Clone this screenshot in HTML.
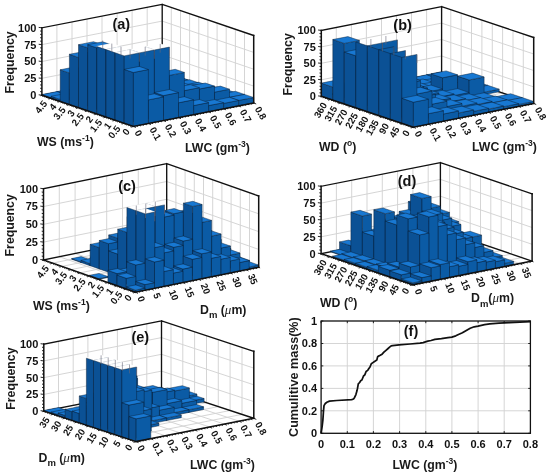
<!DOCTYPE html>
<html><head><meta charset="utf-8"><title>Figure</title>
<style>html,body{margin:0;padding:0;background:#fff}svg{display:block;font-family:"Liberation Sans",sans-serif}.l{fill:#0b5195}.r{fill:#0b5ba5}.t{fill:#1878d2}</style>
</head><body>
<svg width="550" height="476" viewBox="0 0 550 476">
<rect width="550" height="476" fill="#fff"/>
<path d="M56.9 92.3L56.9 24.9M148.4 123.5L56.9 92.3M72 89.3L72 21.9M163.5 120.5L72 89.3M87 86.4L87 19M178.5 117.6L87 86.4M102 83.5L102 16M193.6 114.7L102 83.5M117.1 80.5L117.1 13.1M208.6 111.7L117.1 80.5M132.1 77.6L132.1 10.2M223.6 108.8L132.1 77.6M147.2 74.6L147.2 7.2M238.7 105.8L147.2 74.6M244.5 99.8L244.5 32.4M124.2 123.3L244.5 99.8M235.4 96.7L235.4 29.3M115.1 120.2L235.4 96.7M226.2 93.5L226.2 26.1M106 117L226.2 93.5M217.1 90.4L217.1 23M96.8 113.9L217.1 90.4M207.9 87.3L207.9 19.9M87.7 110.8L207.9 87.3M198.8 84.2L198.8 16.8M78.5 107.7L198.8 84.2M189.6 81.1L189.6 13.7M69.4 104.6L189.6 81.1M180.5 77.9L180.5 10.5M60.2 101.4L180.5 77.9M171.3 74.8L171.3 7.4M51 98.3L171.3 74.8M41.9 78.3L162.2 54.9M162.2 54.9L253.7 86.1M41.9 61.5L162.2 38M162.2 38L253.7 69.2M41.9 44.6L162.2 21.1M162.2 21.1L253.7 52.4" stroke="#d3d3d3" stroke-width="0.95" fill="none"/>
<path d="M41.9 27.8L162.2 4.3M162.2 4.3L253.7 35.5M162.2 71.7L162.2 4.3M41.9 95.2L162.2 71.7M162.2 71.7L253.7 102.9" stroke="#111" stroke-width="1.35" fill="none" stroke-linecap="square"/>
<g stroke="#0a1e33" stroke-width="0.45" stroke-linejoin="round">
<path class="l" d="M147.2,74.6 156.3,77.8 156.3,77.1 147.2,74z"/>
<path class="r" d="M156.3,77.8 171.3,74.8 171.3,74.1 156.3,77.1z"/>
<path class="t" d="M147.2,74 156.3,77.1 171.3,74.1 162.2,71z"/>
<path class="l" d="M132.1,77.6 141.3,80.7 141.3,80 132.1,76.9z"/>
<path class="r" d="M141.3,80.7 156.3,77.8 156.3,77.1 141.3,80z"/>
<path class="t" d="M132.1,76.9 141.3,80 156.3,77.1 147.2,74z"/>
<path class="l" d="M117.1,80.5 126.2,83.6 126.2,83 117.1,79.8z"/>
<path class="r" d="M126.2,83.6 141.3,80.7 141.3,80 126.2,83z"/>
<path class="t" d="M117.1,79.8 126.2,83 141.3,80 132.1,76.9z"/>
<path class="l" d="M102,83.5 111.2,86.6 111.2,85.9 102,82.8z"/>
<path class="r" d="M111.2,86.6 126.2,83.6 126.2,83 111.2,85.9z"/>
<path class="t" d="M102,82.8 111.2,85.9 126.2,83 117.1,79.8z"/>
<path class="l" d="M87,86.4 96.2,89.5 96.2,88.8 87,85.7z"/>
<path class="r" d="M96.2,89.5 111.2,86.6 111.2,85.9 96.2,88.8z"/>
<path class="t" d="M87,85.7 96.2,88.8 111.2,85.9 102,82.8z"/>
<path class="l" d="M72,89.3 81.1,92.4 81.1,91.8 72,88.7z"/>
<path class="r" d="M81.1,92.4 96.2,89.5 96.2,88.8 81.1,91.8z"/>
<path class="t" d="M72,88.7 81.1,91.8 96.2,88.8 87,85.7z"/>
<path class="l" d="M56.9,92.3 66.1,95.4 66.1,94.7 56.9,91.6z"/>
<path class="r" d="M66.1,95.4 81.1,92.4 81.1,91.8 66.1,94.7z"/>
<path class="t" d="M56.9,91.6 66.1,94.7 81.1,91.8 72,88.7z"/>
<path class="l" d="M41.9,95.2 51,98.3 51,97.6 41.9,94.5z"/>
<path class="r" d="M51,98.3 66.1,95.4 66.1,94.7 51,97.6z"/>
<path class="t" d="M41.9,94.5 51,97.6 66.1,94.7 56.9,91.6z"/>
<path class="l" d="M156.3,77.8 165.5,80.9 165.5,80.2 156.3,77.1z"/>
<path class="r" d="M165.5,80.9 180.5,77.9 180.5,77.3 165.5,80.2z"/>
<path class="t" d="M156.3,77.1 165.5,80.2 180.5,77.3 171.3,74.1z"/>
<path class="l" d="M141.3,80.7 150.4,83.8 150.4,83.1 141.3,80z"/>
<path class="r" d="M150.4,83.8 165.5,80.9 165.5,80.2 150.4,83.1z"/>
<path class="t" d="M141.3,80 150.4,83.1 165.5,80.2 156.3,77.1z"/>
<path class="l" d="M126.2,83.6 135.4,86.8 135.4,86.1 126.2,83z"/>
<path class="r" d="M135.4,86.8 150.4,83.8 150.4,83.1 135.4,86.1z"/>
<path class="t" d="M126.2,83 135.4,86.1 150.4,83.1 141.3,80z"/>
<path class="l" d="M111.2,86.6 120.3,89.7 120.3,89 111.2,85.9z"/>
<path class="r" d="M120.3,89.7 135.4,86.8 135.4,86.1 120.3,89z"/>
<path class="t" d="M111.2,85.9 120.3,89 135.4,86.1 126.2,83z"/>
<path class="l" d="M96.2,89.5 105.3,92.6 105.3,92 96.2,88.8z"/>
<path class="r" d="M105.3,92.6 120.3,89.7 120.3,89 105.3,92z"/>
<path class="t" d="M96.2,88.8 105.3,92 120.3,89 111.2,85.9z"/>
<path class="l" d="M81.1,92.4 90.3,95.6 90.3,94.9 81.1,91.8z"/>
<path class="r" d="M90.3,95.6 105.3,92.6 105.3,92 90.3,94.9z"/>
<path class="t" d="M81.1,91.8 90.3,94.9 105.3,92 96.2,88.8z"/>
<path class="l" d="M66.1,95.4 75.2,98.5 75.2,97.2 66.1,94z"/>
<path class="r" d="M75.2,98.5 90.3,95.6 90.3,94.2 75.2,97.2z"/>
<path class="t" d="M66.1,94 75.2,97.2 90.3,94.2 81.1,91.1z"/>
<path class="l" d="M51,98.3 60.2,101.4 60.2,99.4 51,96.3z"/>
<path class="r" d="M60.2,101.4 75.2,98.5 75.2,96.5 60.2,99.4z"/>
<path class="t" d="M51,96.3 60.2,99.4 75.2,96.5 66.1,93.4z"/>
<path class="l" d="M165.5,80.9 174.6,84 174.6,83.3 165.5,80.2z"/>
<path class="r" d="M174.6,84 189.6,81.1 189.6,80.4 174.6,83.3z"/>
<path class="t" d="M165.5,80.2 174.6,83.3 189.6,80.4 180.5,77.3z"/>
<path class="l" d="M150.4,83.8 159.6,86.9 159.6,86.3 150.4,83.1z"/>
<path class="r" d="M159.6,86.9 174.6,84 174.6,83.3 159.6,86.3z"/>
<path class="t" d="M150.4,83.1 159.6,86.3 174.6,83.3 165.5,80.2z"/>
<path class="l" d="M135.4,86.8 144.5,89.9 144.5,88.5 135.4,85.4z"/>
<path class="r" d="M144.5,89.9 159.6,86.9 159.6,85.6 144.5,88.5z"/>
<path class="t" d="M135.4,85.4 144.5,88.5 159.6,85.6 150.4,82.5z"/>
<path class="l" d="M120.3,89.7 129.5,92.8 129.5,90.1 120.3,87z"/>
<path class="r" d="M129.5,92.8 144.5,89.9 144.5,87.2 129.5,90.1z"/>
<path class="t" d="M120.3,87 129.5,90.1 144.5,87.2 135.4,84.1z"/>
<path class="l" d="M105.3,92.6 114.5,95.7 114.5,91.7 105.3,88.6z"/>
<path class="r" d="M114.5,95.7 129.5,92.8 129.5,88.8 114.5,91.7z"/>
<path class="t" d="M105.3,88.6 114.5,91.7 129.5,88.8 120.3,85.6z"/>
<path class="l" d="M90.3,95.6 99.4,98.7 99.4,90.6 90.3,87.5z"/>
<path class="r" d="M99.4,98.7 114.5,95.7 114.5,87.7 99.4,90.6z"/>
<path class="t" d="M90.3,87.5 99.4,90.6 114.5,87.7 105.3,84.5z"/>
<path class="l" d="M75.2,98.5 84.4,101.6 84.4,88.1 75.2,85z"/>
<path class="r" d="M84.4,101.6 99.4,98.7 99.4,85.2 84.4,88.1z"/>
<path class="t" d="M75.2,85 84.4,88.1 99.4,85.2 90.3,82.1z"/>
<path class="l" d="M60.2,101.4 69.4,104.6 69.4,72.9 60.2,69.8z"/>
<path class="r" d="M69.4,104.6 84.4,101.6 84.4,69.9 69.4,72.9z"/>
<path class="t" d="M60.2,69.8 69.4,72.9 84.4,69.9 75.2,66.8z"/>
<path class="l" d="M174.6,84 183.8,87.1 183.8,85.8 174.6,82.6z"/>
<path class="r" d="M183.8,87.1 198.8,84.2 198.8,82.8 183.8,85.8z"/>
<path class="t" d="M174.6,82.6 183.8,85.8 198.8,82.8 189.6,79.7z"/>
<path class="l" d="M159.6,86.9 168.7,90.1 168.7,88 159.6,84.9z"/>
<path class="r" d="M168.7,90.1 183.8,87.1 183.8,85.1 168.7,88z"/>
<path class="t" d="M159.6,84.9 168.7,88 183.8,85.1 174.6,82z"/>
<path class="l" d="M144.5,89.9 153.7,93 153.7,89.6 144.5,86.5z"/>
<path class="r" d="M153.7,93 168.7,90.1 168.7,86.7 153.7,89.6z"/>
<path class="t" d="M144.5,86.5 153.7,89.6 168.7,86.7 159.6,83.6z"/>
<path class="l" d="M129.5,92.8 138.6,95.9 138.6,90.5 129.5,87.4z"/>
<path class="r" d="M138.6,95.9 153.7,93 153.7,87.6 138.6,90.5z"/>
<path class="t" d="M129.5,87.4 138.6,90.5 153.7,87.6 144.5,84.5z"/>
<path class="l" d="M114.5,95.7 123.6,98.9 123.6,89.4 114.5,86.3z"/>
<path class="r" d="M123.6,98.9 138.6,95.9 138.6,86.5 123.6,89.4z"/>
<path class="t" d="M114.5,86.3 123.6,89.4 138.6,86.5 129.5,83.4z"/>
<path class="l" d="M99.4,98.7 108.6,101.8 108.6,85 99.4,81.8z"/>
<path class="r" d="M108.6,101.8 123.6,98.9 123.6,82 108.6,85z"/>
<path class="t" d="M99.4,81.8 108.6,85 123.6,82 114.5,78.9z"/>
<path class="l" d="M84.4,101.6 93.5,104.7 93.5,77.8 84.4,74.7z"/>
<path class="r" d="M93.5,104.7 108.6,101.8 108.6,74.8 93.5,77.8z"/>
<path class="t" d="M84.4,74.7 93.5,77.8 108.6,74.8 99.4,71.7z"/>
<path class="l" d="M69.4,104.6 78.5,107.7 78.5,57.5 69.4,54.3z"/>
<path class="r" d="M78.5,107.7 93.5,104.7 93.5,54.5 78.5,57.5z"/>
<path class="t" d="M69.4,54.3 78.5,57.5 93.5,54.5 84.4,51.4z"/>
<path class="l" d="M183.8,87.1 192.9,90.2 192.9,88.2 183.8,85.1z"/>
<path class="r" d="M192.9,90.2 207.9,87.3 207.9,85.3 192.9,88.2z"/>
<path class="t" d="M183.8,85.1 192.9,88.2 207.9,85.3 198.8,82.2z"/>
<path class="l" d="M168.7,90.1 177.9,93.2 177.9,89.8 168.7,86.7z"/>
<path class="r" d="M177.9,93.2 192.9,90.2 192.9,86.9 177.9,89.8z"/>
<path class="t" d="M168.7,86.7 177.9,89.8 192.9,86.9 183.8,83.7z"/>
<path class="l" d="M153.7,93 162.8,96.1 162.8,89.4 153.7,86.3z"/>
<path class="r" d="M162.8,96.1 177.9,93.2 177.9,86.4 162.8,89.4z"/>
<path class="t" d="M153.7,86.3 162.8,89.4 177.9,86.4 168.7,83.3z"/>
<path class="l" d="M138.6,95.9 147.8,99.1 147.8,88.9 138.6,85.8z"/>
<path class="r" d="M147.8,99.1 162.8,96.1 162.8,86 147.8,88.9z"/>
<path class="t" d="M138.6,85.8 147.8,88.9 162.8,86 153.7,82.9z"/>
<path class="l" d="M123.6,98.9 132.8,102 132.8,87.2 123.6,84z"/>
<path class="r" d="M132.8,102 147.8,99.1 147.8,84.2 132.8,87.2z"/>
<path class="t" d="M123.6,84 132.8,87.2 147.8,84.2 138.6,81.1z"/>
<path class="l" d="M108.6,101.8 117.7,104.9 117.7,78 108.6,74.8z"/>
<path class="r" d="M117.7,104.9 132.8,102 132.8,75 117.7,78z"/>
<path class="t" d="M108.6,74.8 117.7,78 132.8,75 123.6,71.9z"/>
<path class="l" d="M93.5,104.7 102.7,107.9 102.7,67.4 93.5,64.3z"/>
<path class="r" d="M102.7,107.9 117.7,104.9 117.7,64.5 102.7,67.4z"/>
<path class="t" d="M93.5,64.3 102.7,67.4 117.7,64.5 108.6,61.4z"/>
<path class="l" d="M78.5,107.7 87.7,110.8 87.7,47.8 78.5,44.7z"/>
<path class="r" d="M87.7,110.8 102.7,107.9 102.7,44.8 87.7,47.8z"/>
<path class="t" d="M78.5,44.7 87.7,47.8 102.7,44.8 93.5,41.7z"/>
<path class="l" d="M192.9,90.2 202.1,93.4 202.1,90.7 192.9,87.5z"/>
<path class="r" d="M202.1,93.4 217.1,90.4 217.1,87.7 202.1,90.7z"/>
<path class="t" d="M192.9,87.5 202.1,90.7 217.1,87.7 207.9,84.6z"/>
<path class="l" d="M177.9,93.2 187,96.3 187,90.9 177.9,87.8z"/>
<path class="r" d="M187,96.3 202.1,93.4 202.1,88 187,90.9z"/>
<path class="t" d="M177.9,87.8 187,90.9 202.1,88 192.9,84.8z"/>
<path class="l" d="M162.8,96.1 172,99.2 172,89.8 162.8,86.7z"/>
<path class="r" d="M172,99.2 187,96.3 187,86.9 172,89.8z"/>
<path class="t" d="M162.8,86.7 172,89.8 187,86.9 177.9,83.7z"/>
<path class="l" d="M147.8,99.1 156.9,102.2 156.9,88.7 147.8,85.6z"/>
<path class="r" d="M156.9,102.2 172,99.2 172,85.8 156.9,88.7z"/>
<path class="t" d="M147.8,85.6 156.9,88.7 172,85.8 162.8,82.6z"/>
<path class="l" d="M132.8,102 141.9,105.1 141.9,84.9 132.8,81.8z"/>
<path class="r" d="M141.9,105.1 156.9,102.2 156.9,82 141.9,84.9z"/>
<path class="t" d="M132.8,81.8 141.9,84.9 156.9,82 147.8,78.8z"/>
<path class="l" d="M117.7,104.9 126.9,108 126.9,74.3 117.7,71.2z"/>
<path class="r" d="M126.9,108 141.9,105.1 141.9,71.4 126.9,74.3z"/>
<path class="t" d="M117.7,71.2 126.9,74.3 141.9,71.4 132.8,68.3z"/>
<path class="l" d="M102.7,107.9 111.8,111 111.8,63.8 102.7,60.7z"/>
<path class="r" d="M111.8,111 126.9,108 126.9,60.9 111.8,63.8z"/>
<path class="t" d="M102.7,60.7 111.8,63.8 126.9,60.9 117.7,57.7z"/>
<path class="l" d="M87.7,110.8 96.8,113.9 96.8,47.9 87.7,44.7z"/>
<path class="r" d="M96.8,113.9 111.8,111 111.8,44.9 96.8,47.9z"/>
<path class="t" d="M87.7,44.7 96.8,47.9 111.8,44.9 102.7,41.8z"/>
<path class="l" d="M202.1,93.4 211.2,96.5 211.2,93.1 202.1,90z"/>
<path class="r" d="M211.2,96.5 226.2,93.5 226.2,90.2 211.2,93.1z"/>
<path class="t" d="M202.1,90 211.2,93.1 226.2,90.2 217.1,87z"/>
<path class="l" d="M187,96.3 196.2,99.4 196.2,92.7 187,89.6z"/>
<path class="r" d="M196.2,99.4 211.2,96.5 211.2,89.7 196.2,92.7z"/>
<path class="t" d="M187,89.6 196.2,92.7 211.2,89.7 202.1,86.6z"/>
<path class="l" d="M172,99.2 181.1,102.4 181.1,90.2 172,87.1z"/>
<path class="r" d="M181.1,102.4 196.2,99.4 196.2,87.3 181.1,90.2z"/>
<path class="t" d="M172,87.1 181.1,90.2 196.2,87.3 187,84.2z"/>
<path class="l" d="M156.9,102.2 166.1,105.3 166.1,86.4 156.9,83.3z"/>
<path class="r" d="M166.1,105.3 181.1,102.4 181.1,83.5 166.1,86.4z"/>
<path class="t" d="M156.9,83.3 166.1,86.4 181.1,83.5 172,80.4z"/>
<path class="l" d="M141.9,105.1 151.1,108.2 151.1,84.6 141.9,81.5z"/>
<path class="r" d="M151.1,108.2 166.1,105.3 166.1,81.7 151.1,84.6z"/>
<path class="t" d="M141.9,81.5 151.1,84.6 166.1,81.7 156.9,78.6z"/>
<path class="l" d="M126.9,108 136,111.2 136,70.7 126.9,67.6z"/>
<path class="r" d="M136,111.2 151.1,108.2 151.1,67.8 136,70.7z"/>
<path class="t" d="M126.9,67.6 136,70.7 151.1,67.8 141.9,64.7z"/>
<path class="l" d="M111.8,111 121,114.1 121,60.2 111.8,57.1z"/>
<path class="r" d="M121,114.1 136,111.2 136,57.2 121,60.2z"/>
<path class="t" d="M111.8,57.1 121,60.2 136,57.2 126.9,54.1z"/>
<path fill="#fff" stroke="#fff" stroke-width="0.9" d="M96.8,46.5 106,49.6 121,46.7 111.8,43.6z"/>
<path class="l" d="M96.8,113.9 106,117 106,49.6 96.8,46.5z"/>
<path class="r" d="M106,117 121,114.1 121,46.7 106,49.6z"/>
<path class="l" d="M211.2,96.5 220.4,99.6 220.4,95.6 211.2,92.4z"/>
<path class="r" d="M220.4,99.6 235.4,96.7 235.4,92.6 220.4,95.6z"/>
<path class="t" d="M211.2,92.4 220.4,95.6 235.4,92.6 226.2,89.5z"/>
<path class="l" d="M196.2,99.4 205.3,102.5 205.3,93.1 196.2,90z"/>
<path class="r" d="M205.3,102.5 220.4,99.6 220.4,90.2 205.3,93.1z"/>
<path class="t" d="M196.2,90 205.3,93.1 220.4,90.2 211.2,87z"/>
<path class="l" d="M181.1,102.4 190.3,105.5 190.3,90.6 181.1,87.5z"/>
<path class="r" d="M190.3,105.5 205.3,102.5 205.3,87.7 190.3,90.6z"/>
<path class="t" d="M181.1,87.5 190.3,90.6 205.3,87.7 196.2,84.6z"/>
<path class="l" d="M166.1,105.3 175.2,108.4 175.2,88.2 166.1,85.1z"/>
<path class="r" d="M175.2,108.4 190.3,105.5 190.3,85.3 175.2,88.2z"/>
<path class="t" d="M166.1,85.1 175.2,88.2 190.3,85.3 181.1,82.1z"/>
<path class="l" d="M151.1,108.2 160.2,111.3 160.2,81 151.1,77.9z"/>
<path class="r" d="M160.2,111.3 175.2,108.4 175.2,78.1 160.2,81z"/>
<path class="t" d="M151.1,77.9 160.2,81 175.2,78.1 166.1,75z"/>
<path class="l" d="M136,111.2 145.2,114.3 145.2,60.4 136,57.2z"/>
<path class="r" d="M145.2,114.3 160.2,111.3 160.2,57.4 145.2,60.4z"/>
<path class="t" d="M136,57.2 145.2,60.4 160.2,57.4 151.1,54.3z"/>
<path class="l" d="M121,114.1 130.1,117.2 130.1,59.9 121,56.8z"/>
<path class="r" d="M130.1,117.2 145.2,114.3 145.2,57 130.1,59.9z"/>
<path class="t" d="M121,56.8 130.1,59.9 145.2,57 136,53.9z"/>
<path fill="#fff" stroke="#fff" stroke-width="0.9" d="M106,49.6 115.1,52.8 130.1,49.8 121,46.7z"/>
<path class="l" d="M106,117 115.1,120.2 115.1,52.8 106,49.6z"/>
<path class="r" d="M115.1,120.2 130.1,117.2 130.1,49.8 115.1,52.8z"/>
<path class="l" d="M220.4,99.6 229.5,102.7 229.5,97.3 220.4,94.2z"/>
<path class="r" d="M229.5,102.7 244.5,99.8 244.5,94.4 229.5,97.3z"/>
<path class="t" d="M220.4,94.2 229.5,97.3 244.5,94.4 235.4,91.3z"/>
<path class="l" d="M205.3,102.5 214.5,105.7 214.5,92.2 205.3,89.1z"/>
<path class="r" d="M214.5,105.7 229.5,102.7 229.5,89.2 214.5,92.2z"/>
<path class="t" d="M205.3,89.1 214.5,92.2 229.5,89.2 220.4,86.1z"/>
<path class="l" d="M190.3,105.5 199.4,108.6 199.4,89 190.3,85.9z"/>
<path class="r" d="M199.4,108.6 214.5,105.7 214.5,86.1 199.4,89z"/>
<path class="t" d="M190.3,85.9 199.4,89 214.5,86.1 205.3,83z"/>
<path class="l" d="M175.2,108.4 184.4,111.5 184.4,90.6 175.2,87.5z"/>
<path class="r" d="M184.4,111.5 199.4,108.6 199.4,87.7 184.4,90.6z"/>
<path class="t" d="M175.2,87.5 184.4,90.6 199.4,87.7 190.3,84.6z"/>
<path class="l" d="M160.2,111.3 169.4,114.5 169.4,75.4 160.2,72.3z"/>
<path class="r" d="M169.4,114.5 184.4,111.5 184.4,72.4 169.4,75.4z"/>
<path class="t" d="M160.2,72.3 169.4,75.4 184.4,72.4 175.2,69.3z"/>
<path fill="#fff" stroke="#fff" stroke-width="0.9" d="M145.2,46.9 154.3,50 169.4,47.1 160.2,43.9z"/>
<path class="l" d="M145.2,114.3 154.3,117.4 154.3,50 145.2,46.9z"/>
<path class="r" d="M154.3,117.4 169.4,114.5 169.4,47.1 154.3,50z"/>
<path fill="#fff" stroke="#fff" stroke-width="0.9" d="M130.1,49.8 139.3,52.9 154.3,50 145.2,46.9z"/>
<path class="l" d="M130.1,117.2 139.3,120.3 139.3,52.9 130.1,49.8z"/>
<path class="r" d="M139.3,120.3 154.3,117.4 154.3,50 139.3,52.9z"/>
<path fill="#fff" stroke="#fff" stroke-width="0.9" d="M115.1,52.8 124.2,55.9 139.3,52.9 130.1,49.8z"/>
<path class="l" d="M115.1,120.2 124.2,123.3 124.2,55.9 115.1,52.8z"/>
<path class="r" d="M124.2,123.3 139.3,120.3 139.3,52.9 124.2,55.9z"/>
<path class="l" d="M229.5,102.7 238.7,105.8 238.7,100.4 229.5,97.3z"/>
<path class="r" d="M238.7,105.8 253.7,102.9 253.7,97.5 238.7,100.4z"/>
<path class="t" d="M229.5,97.3 238.7,100.4 253.7,97.5 244.5,94.4z"/>
<path class="l" d="M214.5,105.7 223.6,108.8 223.6,103.4 214.5,100.3z"/>
<path class="r" d="M223.6,108.8 238.7,105.8 238.7,100.4 223.6,103.4z"/>
<path class="t" d="M214.5,100.3 223.6,103.4 238.7,100.4 229.5,97.3z"/>
<path class="l" d="M199.4,108.6 208.6,111.7 208.6,105.6 199.4,102.5z"/>
<path class="r" d="M208.6,111.7 223.6,108.8 223.6,102.7 208.6,105.6z"/>
<path class="t" d="M199.4,102.5 208.6,105.6 223.6,102.7 214.5,99.6z"/>
<path class="l" d="M184.4,111.5 193.6,114.7 193.6,105.6 184.4,102.4z"/>
<path class="r" d="M193.6,114.7 208.6,111.7 208.6,102.6 193.6,105.6z"/>
<path class="t" d="M184.4,102.4 193.6,105.6 208.6,102.6 199.4,99.5z"/>
<path class="l" d="M169.4,114.5 178.5,117.6 178.5,102.8 169.4,99.6z"/>
<path class="r" d="M178.5,117.6 193.6,114.7 193.6,99.8 178.5,102.8z"/>
<path class="t" d="M169.4,99.6 178.5,102.8 193.6,99.8 184.4,96.7z"/>
<path class="l" d="M154.3,117.4 163.5,120.5 163.5,95.6 154.3,92.5z"/>
<path class="r" d="M163.5,120.5 178.5,117.6 178.5,92.6 163.5,95.6z"/>
<path class="t" d="M154.3,92.5 163.5,95.6 178.5,92.6 169.4,89.5z"/>
<path class="l" d="M139.3,120.3 148.4,123.5 148.4,99.9 139.3,96.8z"/>
<path class="r" d="M148.4,123.5 163.5,120.5 163.5,96.9 148.4,99.9z"/>
<path class="t" d="M139.3,96.8 148.4,99.9 163.5,96.9 154.3,93.8z"/>
<path class="l" d="M124.2,123.3 133.4,126.4 133.4,72.5 124.2,69.4z"/>
<path class="r" d="M133.4,126.4 148.4,123.5 148.4,69.5 133.4,72.5z"/>
<path class="t" d="M124.2,69.4 133.4,72.5 148.4,69.5 139.3,66.4z"/>
</g>
<path d="M102.7 48.6L102.7 40.5M111.8 52.3L111.8 43.6M121 55.5L121 46.7M130.1 58.6L130.1 49.8M139.3 61.7L139.3 52.9M145.2 55.6L145.2 46.9M154.3 58.8L154.3 50M160.2 52.7L160.2 43.9M169.4 55.8L169.4 47.1" stroke="#667" stroke-width="0.6" fill="none"/>
<path d="M41.9 95.2L41.9 27.8M41.9 95.2L133.4 126.4M133.4 126.4L253.7 102.9M253.7 102.9L253.7 35.5" stroke="#111" stroke-width="1.5" fill="none" stroke-linecap="square"/>
<path d="M41.9 95.2L38.7 94.8M41.9 91.8L40.1 91.6M41.9 88.5L40.1 88.2M41.9 85.1L40.1 84.9M41.9 81.7L40.1 81.5M41.9 78.3L38.7 78M41.9 75L40.1 74.8M41.9 71.6L40.1 71.4M41.9 68.2L40.1 68M41.9 64.9L40.1 64.7M41.9 61.5L38.7 61.1M41.9 58.1L40.1 57.9M41.9 54.8L40.1 54.5M41.9 51.4L40.1 51.2M41.9 48L40.1 47.8M41.9 44.6L38.7 44.3M41.9 41.3L40.1 41.1M41.9 37.9L40.1 37.7M41.9 34.5L40.1 34.3M41.9 31.2L40.1 31M41.9 27.8L38.7 27.4M133.4 126.4L130.8 127.2M131.6 125.8L130.1 126.4M129.7 125.2L128.3 125.7M127.9 124.5L126.4 125.1M126.1 123.9L124.6 124.5M124.2 123.3L121.7 124.1M122.4 122.7L120.9 123.2M120.6 122L119.1 122.6M118.8 121.4L117.3 122M116.9 120.8L115.5 121.4M115.1 120.2L112.5 121M113.3 119.5L111.8 120.1M111.4 118.9L110 119.5M109.6 118.3L108.1 118.9M107.8 117.7L106.3 118.3M106 117L103.4 117.8M104.1 116.4L102.6 117M102.3 115.8L100.8 116.4M100.5 115.2L99 115.8M98.6 114.5L97.2 115.1M96.8 113.9L94.2 114.7M95 113.3L93.5 113.9M93.1 112.7L91.7 113.3M91.3 112L89.8 112.6M89.5 111.4L88 112M87.7 110.8L85.1 111.6M85.8 110.2L84.3 110.8M84 109.6L82.5 110.1M82.2 108.9L80.7 109.5M80.3 108.3L78.9 108.9M78.5 107.7L75.9 108.5M76.7 107.1L75.2 107.6M74.8 106.4L73.4 107M73 105.8L71.5 106.4M71.2 105.2L69.7 105.8M69.4 104.6L66.8 105.4M67.5 103.9L66 104.5M65.7 103.3L64.2 103.9M63.9 102.7L62.4 103.3M62 102.1L60.6 102.7M60.2 101.4L57.6 102.2M58.4 100.8L56.9 101.4M56.5 100.2L55.1 100.8M54.7 99.6L53.2 100.2M52.9 98.9L51.4 99.5M51 98.3L48.5 99.1M49.2 97.7L47.7 98.3M47.4 97.1L45.9 97.7M45.6 96.4L44.1 97M43.7 95.8L42.3 96.4M41.9 95.2L40.4 95.8M133.4 126.4L135.9 127.5M136.4 125.8L137.8 126.6M139.4 125.2L140.8 126M142.4 124.6L143.8 125.4M145.4 124.1L146.8 124.8M148.4 123.5L150.9 124.6M151.4 122.9L152.9 123.7M154.5 122.3L155.9 123.1M157.5 121.7L158.9 122.5M160.5 121.1L161.9 121.9M163.5 120.5L165.9 121.7M166.5 119.9L167.9 120.7M169.5 119.4L170.9 120.1M172.5 118.8L173.9 119.5M175.5 118.2L176.9 119M178.5 117.6L181 118.7M181.5 117L182.9 117.8M184.5 116.4L185.9 117.2M187.5 115.8L189 116.6M190.5 115.2L192 116M193.6 114.7L196 115.8M196.6 114.1L198 114.8M199.6 113.5L201 114.3M202.6 112.9L204 113.7M205.6 112.3L207 113.1M208.6 111.7L211 112.9M211.6 111.1L213 111.9M214.6 110.5L216 111.3M217.6 110L219 110.7M220.6 109.4L222 110.1M223.6 108.8L226.1 109.9M226.6 108.2L228.1 109M229.6 107.6L231.1 108.4M232.6 107L234.1 107.8M235.7 106.4L237.1 107.2M238.7 105.8L241.1 107M241.7 105.2L243.1 106M244.7 104.7L246.1 105.4M247.7 104.1L249.1 104.9M250.7 103.5L252.1 104.3M253.7 102.9L256.2 104" stroke="#111" stroke-width="0.9" fill="none"/>
<g font-size="9.6" font-weight="bold" fill="#111">
<text x="36.4" y="99.1" text-anchor="end" font-size="11">0</text>
<text x="36.4" y="82.2" text-anchor="end" font-size="11">25</text>
<text x="36.4" y="65.4" text-anchor="end" font-size="11">50</text>
<text x="36.4" y="48.5" text-anchor="end" font-size="11">75</text>
<text x="36.4" y="31.7" text-anchor="end" font-size="11">100</text>
<text transform="translate(130.2 131.9) rotate(-52)" text-anchor="end">0</text>
<text transform="translate(121 128.8) rotate(-52)" text-anchor="end">0.5</text>
<text transform="translate(111.9 125.7) rotate(-52)" text-anchor="end">1</text>
<text transform="translate(102.8 122.5) rotate(-52)" text-anchor="end">1.5</text>
<text transform="translate(93.6 119.4) rotate(-52)" text-anchor="end">2</text>
<text transform="translate(84.5 116.3) rotate(-52)" text-anchor="end">2.5</text>
<text transform="translate(75.3 113.2) rotate(-52)" text-anchor="end">3</text>
<text transform="translate(66.2 110.1) rotate(-52)" text-anchor="end">3.5</text>
<text transform="translate(57 106.9) rotate(-52)" text-anchor="end">4</text>
<text transform="translate(47.8 103.8) rotate(-52)" text-anchor="end">4.5</text>
<text transform="translate(136.9 130.9) rotate(60)" text-anchor="start" dy="3">0</text>
<text transform="translate(151.9 128) rotate(60)" text-anchor="start" dy="3">0.1</text>
<text transform="translate(167 125) rotate(60)" text-anchor="start" dy="3">0.2</text>
<text transform="translate(182 122.1) rotate(60)" text-anchor="start" dy="3">0.3</text>
<text transform="translate(197.1 119.2) rotate(60)" text-anchor="start" dy="3">0.4</text>
<text transform="translate(212.1 116.2) rotate(60)" text-anchor="start" dy="3">0.5</text>
<text transform="translate(227.1 113.3) rotate(60)" text-anchor="start" dy="3">0.6</text>
<text transform="translate(242.2 110.3) rotate(60)" text-anchor="start" dy="3">0.7</text>
<text transform="translate(257.2 107.4) rotate(60)" text-anchor="start" dy="3">0.8</text>
</g>
<text x="121.3" y="28.7" font-size="14.5" font-weight="bold" text-anchor="middle" fill="#111">(a)</text>
<text transform="translate(14 62.5) rotate(-90)" font-size="12.3" font-weight="bold" text-anchor="middle" fill="#1a1a1a">Frequency</text>
<text x="37" y="146" font-size="12.3" font-weight="bold" fill="#1a1a1a">WS (ms<tspan font-size="8.5" dy="-5">-1</tspan><tspan dy="5">)</tspan></text>
<text x="185" y="152" font-size="12.3" font-weight="bold" fill="#1a1a1a">LWC (gm<tspan font-size="8.5" dy="-5">-3</tspan><tspan dy="5">)</tspan></text>
<path d="M336.3 93.3L336.3 27.4M428.4 124.2L336.3 93.3M351.4 90.3L351.4 24.4M443.5 121.2L351.4 90.3M366.4 87.4L366.4 21.5M458.5 118.3L366.4 87.4M381.5 84.4L381.5 18.5M473.6 115.3L381.5 84.4M396.5 81.4L396.5 15.5M488.6 112.3L396.5 81.4M411.5 78.5L411.5 12.5M503.6 109.4L411.5 78.5M426.6 75.5L426.6 9.6M518.7 106.4L426.6 75.5M523.3 99.9L523.3 34M403 123.7L523.3 99.9M513 96.4L513 30.5M392.7 120.2L513 96.4M502.6 93L502.6 27.1M382.3 116.8L502.6 93M492.3 89.5L492.3 23.6M372 113.3L492.3 89.5M481.9 86L481.9 20.1M361.6 109.8L481.9 86M471.5 82.5L471.5 16.6M351.2 106.3L471.5 82.5M461.2 79.1L461.2 13.2M340.9 102.9L461.2 79.1M450.8 75.6L450.8 9.7M330.5 99.4L450.8 75.6M321.3 79.8L441.6 56M441.6 56L533.7 86.9M321.3 63.3L441.6 39.5M441.6 39.5L533.7 70.5M321.3 46.9L441.6 23.1M441.6 23.1L533.7 54" stroke="#d3d3d3" stroke-width="0.95" fill="none"/>
<path d="M321.3 30.4L441.6 6.6M441.6 6.6L533.7 37.5M441.6 72.5L441.6 6.6M321.3 96.3L441.6 72.5M441.6 72.5L533.7 103.4" stroke="#111" stroke-width="1.35" fill="none" stroke-linecap="square"/>
<g stroke="#0a1e33" stroke-width="0.45" stroke-linejoin="round">
<path class="l" d="M426.6,75.5 438.1,79.3 438.1,78.7 426.6,74.8z"/>
<path class="r" d="M438.1,79.3 453.1,76.4 453.1,75.7 438.1,78.7z"/>
<path class="t" d="M426.6,74.8 438.1,78.7 453.1,75.7 441.6,71.8z"/>
<path class="l" d="M411.5,78.4 423,82.3 423,81.7 411.5,77.8z"/>
<path class="r" d="M423,82.3 438.1,79.3 438.1,78.7 423,81.7z"/>
<path class="t" d="M411.5,77.8 423,81.7 438.1,78.7 426.6,74.8z"/>
<path class="l" d="M396.5,81.4 408,85.3 408,84.6 396.5,80.8z"/>
<path class="r" d="M408,85.3 423,82.3 423,81.7 408,84.6z"/>
<path class="t" d="M396.5,80.8 408,84.6 423,81.7 411.5,77.8z"/>
<path class="l" d="M381.5,84.4 393,88.3 393,86.9 381.5,83.1z"/>
<path class="r" d="M393,88.3 408,85.3 408,84 393,86.9z"/>
<path class="t" d="M381.5,83.1 393,86.9 408,84 396.5,80.1z"/>
<path class="l" d="M366.4,87.4 377.9,91.2 377.9,89.3 366.4,85.4z"/>
<path class="r" d="M377.9,91.2 393,88.3 393,86.3 377.9,89.3z"/>
<path class="t" d="M366.4,85.4 377.9,89.3 393,86.3 381.5,82.4z"/>
<path class="l" d="M351.4,90.3 362.9,94.2 362.9,90.9 351.4,87.1z"/>
<path class="r" d="M362.9,94.2 377.9,91.2 377.9,87.9 362.9,90.9z"/>
<path class="t" d="M351.4,87.1 362.9,90.9 377.9,87.9 366.4,84.1z"/>
<path class="l" d="M336.3,93.3 347.9,97.2 347.9,90.6 336.3,86.7z"/>
<path class="r" d="M347.9,97.2 362.9,94.2 362.9,87.6 347.9,90.6z"/>
<path class="t" d="M336.3,86.7 347.9,90.6 362.9,87.6 351.4,83.8z"/>
<path class="l" d="M321.3,96.3 332.8,100.2 332.8,87 321.3,83.1z"/>
<path class="r" d="M332.8,100.2 347.9,97.2 347.9,84 332.8,87z"/>
<path class="t" d="M321.3,83.1 332.8,87 347.9,84 336.3,80.1z"/>
<path class="l" d="M438.1,79.3 449.6,83.2 449.6,81.9 438.1,78z"/>
<path class="r" d="M449.6,83.2 464.6,80.2 464.6,78.9 449.6,81.9z"/>
<path class="t" d="M438.1,78 449.6,81.9 464.6,78.9 453.1,75z"/>
<path class="l" d="M423,82.3 434.6,86.2 434.6,84.2 423,80.3z"/>
<path class="r" d="M434.6,86.2 449.6,83.2 449.6,81.2 434.6,84.2z"/>
<path class="t" d="M423,80.3 434.6,84.2 449.6,81.2 438.1,77.4z"/>
<path class="l" d="M408,85.3 419.5,89.2 419.5,85.9 408,82z"/>
<path class="r" d="M419.5,89.2 434.6,86.2 434.6,82.9 419.5,85.9z"/>
<path class="t" d="M408,82 419.5,85.9 434.6,82.9 423,79z"/>
<path class="l" d="M393,88.3 404.5,92.1 404.5,86.9 393,83z"/>
<path class="r" d="M404.5,92.1 419.5,89.2 419.5,83.9 404.5,86.9z"/>
<path class="t" d="M393,83 404.5,86.9 419.5,83.9 408,80z"/>
<path class="l" d="M377.9,91.2 389.4,95.1 389.4,87.2 377.9,83.3z"/>
<path class="r" d="M389.4,95.1 404.5,92.1 404.5,84.2 389.4,87.2z"/>
<path class="t" d="M377.9,83.3 389.4,87.2 404.5,84.2 393,80.4z"/>
<path class="l" d="M362.9,94.2 374.4,98.1 374.4,84.9 362.9,81z"/>
<path class="r" d="M374.4,98.1 389.4,95.1 389.4,81.9 374.4,84.9z"/>
<path class="t" d="M362.9,81 374.4,84.9 389.4,81.9 377.9,78.1z"/>
<path class="l" d="M347.9,97.2 359.4,101.1 359.4,68.1 347.9,64.2z"/>
<path class="r" d="M359.4,101.1 374.4,98.1 374.4,65.1 359.4,68.1z"/>
<path class="t" d="M347.9,64.2 359.4,68.1 374.4,65.1 362.9,61.3z"/>
<path class="l" d="M332.8,100.2 344.3,104 344.3,43.4 332.8,39.5z"/>
<path class="r" d="M344.3,104 359.4,101.1 359.4,40.4 344.3,43.4z"/>
<path class="t" d="M332.8,39.5 344.3,43.4 359.4,40.4 347.9,36.6z"/>
<path class="l" d="M449.6,83.2 461.1,87.1 461.1,85.1 449.6,81.2z"/>
<path class="r" d="M461.1,87.1 476.1,84.1 476.1,82.1 461.1,85.1z"/>
<path class="t" d="M449.6,81.2 461.1,85.1 476.1,82.1 464.6,78.2z"/>
<path class="l" d="M434.6,86.2 446.1,90 446.1,86.7 434.6,82.9z"/>
<path class="r" d="M446.1,90 461.1,87.1 461.1,83.8 446.1,86.7z"/>
<path class="t" d="M434.6,82.9 446.1,86.7 461.1,83.8 449.6,79.9z"/>
<path class="l" d="M419.5,89.2 431,93 431,88.4 419.5,84.5z"/>
<path class="r" d="M431,93 446.1,90 446.1,85.4 431,88.4z"/>
<path class="t" d="M419.5,84.5 431,88.4 446.1,85.4 434.6,81.6z"/>
<path class="l" d="M404.5,92.1 416,96 416,89.4 404.5,85.5z"/>
<path class="r" d="M416,96 431,93 431,86.4 416,89.4z"/>
<path class="t" d="M404.5,85.5 416,89.4 431,86.4 419.5,82.6z"/>
<path class="l" d="M389.4,95.1 400.9,99 400.9,89.1 389.4,85.2z"/>
<path class="r" d="M400.9,99 416,96 416,86.1 400.9,89.1z"/>
<path class="t" d="M389.4,85.2 400.9,89.1 416,86.1 404.5,82.2z"/>
<path class="l" d="M374.4,98.1 385.9,101.9 385.9,82.2 374.4,78.3z"/>
<path class="r" d="M385.9,101.9 400.9,99 400.9,79.2 385.9,82.2z"/>
<path class="t" d="M374.4,78.3 385.9,82.2 400.9,79.2 389.4,75.3z"/>
<path class="l" d="M359.4,101.1 370.9,104.9 370.9,65.4 359.4,61.5z"/>
<path class="r" d="M370.9,104.9 385.9,101.9 385.9,62.4 370.9,65.4z"/>
<path class="t" d="M359.4,61.5 370.9,65.4 385.9,62.4 374.4,58.5z"/>
<path class="l" d="M344.3,104 355.8,107.9 355.8,55.8 344.3,52z"/>
<path class="r" d="M355.8,107.9 370.9,104.9 370.9,52.9 355.8,55.8z"/>
<path class="t" d="M344.3,52 355.8,55.8 370.9,52.9 359.4,49z"/>
<path class="l" d="M461.1,87.1 472.6,90.9 472.6,88.3 461.1,84.4z"/>
<path class="r" d="M472.6,90.9 487.7,88 487.7,85.3 472.6,88.3z"/>
<path class="t" d="M461.1,84.4 472.6,88.3 487.7,85.3 476.1,81.5z"/>
<path class="l" d="M446.1,90 457.6,93.9 457.6,88.6 446.1,84.8z"/>
<path class="r" d="M457.6,93.9 472.6,90.9 472.6,85.7 457.6,88.6z"/>
<path class="t" d="M446.1,84.8 457.6,88.6 472.6,85.7 461.1,81.8z"/>
<path class="l" d="M431,93 442.5,96.9 442.5,77.8 431,73.9z"/>
<path class="r" d="M442.5,96.9 457.6,93.9 457.6,74.8 442.5,77.8z"/>
<path class="t" d="M431,73.9 442.5,77.8 457.6,74.8 446.1,70.9z"/>
<path class="l" d="M416,96 427.5,99.8 427.5,91.9 416,88.1z"/>
<path class="r" d="M427.5,99.8 442.5,96.9 442.5,89 427.5,91.9z"/>
<path class="t" d="M416,88.1 427.5,91.9 442.5,89 431,85.1z"/>
<path class="l" d="M400.9,99 412.5,102.8 412.5,91 400.9,87.1z"/>
<path class="r" d="M412.5,102.8 427.5,99.8 427.5,88 412.5,91z"/>
<path class="t" d="M400.9,87.1 412.5,91 427.5,88 416,84.1z"/>
<path class="l" d="M385.9,101.9 397.4,105.8 397.4,82.7 385.9,78.9z"/>
<path class="r" d="M397.4,105.8 412.5,102.8 412.5,79.8 397.4,82.7z"/>
<path class="t" d="M385.9,78.9 397.4,82.7 412.5,79.8 400.9,75.9z"/>
<path class="r" d="M382.4,108.8 397.4,105.8 397.4,39.9 382.4,42.9z"/>
<path class="l" d="M355.8,107.9 367.4,111.8 367.4,45.8 355.8,42z"/>
<path class="r" d="M367.4,111.8 382.4,108.8 382.4,42.9 367.4,45.8z"/>
<path class="l" d="M472.6,90.9 484.1,94.8 484.1,92.2 472.6,88.3z"/>
<path class="r" d="M484.1,94.8 499.2,91.8 499.2,89.2 484.1,92.2z"/>
<path class="t" d="M472.6,88.3 484.1,92.2 499.2,89.2 487.7,85.3z"/>
<path class="l" d="M457.6,93.9 469.1,97.8 469.1,80 457.6,76.1z"/>
<path class="r" d="M469.1,97.8 484.1,94.8 484.1,77 469.1,80z"/>
<path class="t" d="M457.6,76.1 469.1,80 484.1,77 472.6,73.1z"/>
<path class="l" d="M442.5,96.9 454.1,100.7 454.1,95.5 442.5,91.6z"/>
<path class="r" d="M454.1,100.7 469.1,97.8 469.1,92.5 454.1,95.5z"/>
<path class="t" d="M442.5,91.6 454.1,95.5 469.1,92.5 457.6,88.6z"/>
<path class="l" d="M427.5,99.8 439,103.7 439,97.1 427.5,93.3z"/>
<path class="r" d="M439,103.7 454.1,100.7 454.1,94.1 439,97.1z"/>
<path class="t" d="M427.5,93.3 439,97.1 454.1,94.1 442.5,90.3z"/>
<path class="l" d="M412.5,102.8 424,106.7 424,96.1 412.5,92.3z"/>
<path class="r" d="M424,106.7 439,103.7 439,93.2 424,96.1z"/>
<path class="t" d="M412.5,92.3 424,96.1 439,93.2 427.5,89.3z"/>
<path class="l" d="M397.4,105.8 408.9,109.7 408.9,89.9 397.4,86z"/>
<path class="r" d="M408.9,109.7 424,106.7 424,86.9 408.9,89.9z"/>
<path class="t" d="M397.4,86 408.9,89.9 424,86.9 412.5,83.1z"/>
<path class="l" d="M382.4,108.8 393.9,112.6 393.9,76.4 382.4,72.5z"/>
<path class="r" d="M393.9,112.6 408.9,109.7 408.9,73.4 393.9,76.4z"/>
<path class="t" d="M382.4,72.5 393.9,76.4 408.9,73.4 397.4,69.6z"/>
<path class="l" d="M367.4,111.8 378.9,115.6 378.9,49.7 367.4,45.8z"/>
<path class="r" d="M378.9,115.6 393.9,112.6 393.9,46.7 378.9,49.7z"/>
<path class="l" d="M469.1,97.8 480.6,101.6 480.6,99.6 469.1,95.8z"/>
<path class="r" d="M480.6,101.6 495.6,98.7 495.6,96.7 480.6,99.6z"/>
<path class="t" d="M469.1,95.8 480.6,99.6 495.6,96.7 484.1,92.8z"/>
<path class="l" d="M454.1,100.7 465.6,104.6 465.6,100.6 454.1,96.8z"/>
<path class="r" d="M465.6,104.6 480.6,101.6 480.6,97.7 465.6,100.6z"/>
<path class="t" d="M454.1,96.8 465.6,100.6 480.6,97.7 469.1,93.8z"/>
<path class="l" d="M439,103.7 450.5,107.6 450.5,101.6 439,97.8z"/>
<path class="r" d="M450.5,107.6 465.6,104.6 465.6,98.7 450.5,101.6z"/>
<path class="t" d="M439,97.8 450.5,101.6 465.6,98.7 454.1,94.8z"/>
<path class="l" d="M424,106.7 435.5,110.5 435.5,101.3 424,97.5z"/>
<path class="r" d="M435.5,110.5 450.5,107.6 450.5,98.3 435.5,101.3z"/>
<path class="t" d="M424,97.5 435.5,101.3 450.5,98.3 439,94.5z"/>
<path class="l" d="M408.9,109.7 420.5,113.5 420.5,97 408.9,93.2z"/>
<path class="r" d="M420.5,113.5 435.5,110.5 435.5,94.1 420.5,97z"/>
<path class="t" d="M408.9,93.2 420.5,97 435.5,94.1 424,90.2z"/>
<path class="l" d="M393.9,112.6 405.4,116.5 405.4,83.5 393.9,79.7z"/>
<path class="r" d="M405.4,116.5 420.5,113.5 420.5,80.6 405.4,83.5z"/>
<path class="t" d="M393.9,79.7 405.4,83.5 420.5,80.6 408.9,76.7z"/>
<path class="l" d="M378.9,115.6 390.4,119.5 390.4,53.6 378.9,49.7z"/>
<path class="r" d="M390.4,119.5 405.4,116.5 405.4,50.6 390.4,53.6z"/>
<path class="l" d="M495.6,98.7 507.2,102.5 507.2,100.5 495.6,96.7z"/>
<path class="r" d="M507.2,102.5 522.2,99.5 522.2,97.6 507.2,100.5z"/>
<path class="t" d="M495.6,96.7 507.2,100.5 522.2,97.6 510.7,93.7z"/>
<path class="l" d="M480.6,101.6 492.1,105.5 492.1,102.9 480.6,99z"/>
<path class="r" d="M492.1,105.5 507.2,102.5 507.2,99.9 492.1,102.9z"/>
<path class="t" d="M480.6,99 492.1,102.9 507.2,99.9 495.6,96z"/>
<path class="l" d="M465.6,104.6 477.1,108.5 477.1,104.5 465.6,100.6z"/>
<path class="r" d="M477.1,108.5 492.1,105.5 492.1,101.5 477.1,104.5z"/>
<path class="t" d="M465.6,100.6 477.1,104.5 492.1,101.5 480.6,97.7z"/>
<path class="l" d="M450.5,107.6 462,111.4 462,106.2 450.5,102.3z"/>
<path class="r" d="M462,111.4 477.1,108.5 477.1,103.2 462,106.2z"/>
<path class="t" d="M450.5,102.3 462,106.2 477.1,103.2 465.6,99.3z"/>
<path class="l" d="M435.5,110.5 447,114.4 447,106.5 435.5,102.6z"/>
<path class="r" d="M447,114.4 462,111.4 462,103.5 447,106.5z"/>
<path class="t" d="M435.5,102.6 447,106.5 462,103.5 450.5,99.7z"/>
<path class="l" d="M420.5,113.5 432,117.4 432,104.2 420.5,100.3z"/>
<path class="r" d="M432,117.4 447,114.4 447,101.2 432,104.2z"/>
<path class="t" d="M420.5,100.3 432,104.2 447,101.2 435.5,97.4z"/>
<path class="l" d="M405.4,116.5 416.9,120.4 416.9,94 405.4,90.1z"/>
<path class="r" d="M416.9,120.4 432,117.4 432,91 416.9,94z"/>
<path class="t" d="M405.4,90.1 416.9,94 432,91 420.5,87.2z"/>
<path class="l" d="M390.4,119.5 401.9,123.3 401.9,57.4 390.4,53.6z"/>
<path class="r" d="M401.9,123.3 416.9,120.4 416.9,54.5 401.9,57.4z"/>
<path class="l" d="M507.2,102.5 518.7,106.4 518.7,104.4 507.2,100.5z"/>
<path class="r" d="M518.7,106.4 533.7,103.4 533.7,101.4 518.7,104.4z"/>
<path class="t" d="M507.2,100.5 518.7,104.4 533.7,101.4 522.2,97.6z"/>
<path class="l" d="M492.1,105.5 503.6,109.3 503.6,106.7 492.1,102.9z"/>
<path class="r" d="M503.6,109.3 518.7,106.4 518.7,103.7 503.6,106.7z"/>
<path class="t" d="M492.1,102.9 503.6,106.7 518.7,103.7 507.2,99.9z"/>
<path class="l" d="M477.1,108.5 488.6,112.3 488.6,109 477.1,105.2z"/>
<path class="r" d="M488.6,112.3 503.6,109.3 503.6,106.1 488.6,109z"/>
<path class="t" d="M477.1,105.2 488.6,109 503.6,106.1 492.1,102.2z"/>
<path class="l" d="M462,111.4 473.6,115.3 473.6,111.3 462,107.5z"/>
<path class="r" d="M473.6,115.3 488.6,112.3 488.6,108.4 473.6,111.3z"/>
<path class="t" d="M462,107.5 473.6,111.3 488.6,108.4 477.1,104.5z"/>
<path class="l" d="M447,114.4 458.5,118.3 458.5,113 447,109.1z"/>
<path class="r" d="M458.5,118.3 473.6,115.3 473.6,110 458.5,113z"/>
<path class="t" d="M447,109.1 458.5,113 473.6,110 462,106.2z"/>
<path class="l" d="M432,117.4 443.5,121.2 443.5,114 432,110.1z"/>
<path class="r" d="M443.5,121.2 458.5,118.3 458.5,111 443.5,114z"/>
<path class="t" d="M432,110.1 443.5,114 458.5,111 447,107.2z"/>
<path class="l" d="M416.9,120.4 428.4,124.2 428.4,113.7 416.9,109.8z"/>
<path class="r" d="M428.4,124.2 443.5,121.2 443.5,110.7 428.4,113.7z"/>
<path class="t" d="M416.9,109.8 428.4,113.7 443.5,110.7 432,106.8z"/>
<path class="l" d="M401.9,123.3 413.4,127.2 413.4,102.2 401.9,98.3z"/>
<path class="r" d="M413.4,127.2 428.4,124.2 428.4,99.2 413.4,102.2z"/>
<path class="t" d="M401.9,98.3 413.4,102.2 428.4,99.2 416.9,95.3z"/>
</g>
<path d="M370.9 47.6L370.9 39M382.4 51.4L382.4 42.9M385.9 44.6L385.9 36M393.9 55.3L393.9 46.7M397.4 48.5L397.4 39.9M405.4 59.2L405.4 50.6M416.9 63L416.9 54.5" stroke="#667" stroke-width="0.6" fill="none"/>
<path d="M321.3 96.3L321.3 30.4M321.3 96.3L413.4 127.2M413.4 127.2L533.7 103.4M533.7 103.4L533.7 37.5" stroke="#111" stroke-width="1.5" fill="none" stroke-linecap="square"/>
<path d="M321.3 96.3L318.1 95.9M321.3 93L319.5 92.8M321.3 89.7L319.5 89.5M321.3 86.4L319.5 86.2M321.3 83.1L319.5 82.9M321.3 79.8L318.1 79.4M321.3 76.5L319.5 76.3M321.3 73.2L319.5 73M321.3 69.9L319.5 69.7M321.3 66.6L319.5 66.4M321.3 63.3L318.1 63M321.3 60.1L319.5 59.8M321.3 56.8L319.5 56.5M321.3 53.5L319.5 53.2M321.3 50.2L319.5 50M321.3 46.9L318.1 46.5M321.3 43.6L319.5 43.4M321.3 40.3L319.5 40.1M321.3 37L319.5 36.8M321.3 33.7L319.5 33.5M321.3 30.4L318.1 30M413.4 127.2L410.8 128M411.3 126.5L409.9 127.1M409.3 125.8L407.8 126.4M407.2 125.1L405.7 125.7M405.1 124.4L403.6 125M403 123.7L400.5 124.5M401 123L399.5 123.6M398.9 122.3L397.4 122.9M396.8 121.6L395.4 122.2M394.7 120.9L393.3 121.5M392.7 120.2L390.1 121.1M390.6 119.6L389.1 120.1M388.5 118.9L387.1 119.4M386.5 118.2L385 118.8M384.4 117.5L382.9 118.1M382.3 116.8L379.8 117.6M380.2 116.1L378.8 116.7M378.2 115.4L376.7 116M376.1 114.7L374.6 115.3M374 114L372.6 114.6M372 113.3L369.4 114.1M369.9 112.6L368.4 113.2M367.8 111.9L366.3 112.5M365.7 111.2L364.3 111.8M363.7 110.5L362.2 111.1M361.6 109.8L359 110.6M359.5 109.1L358.1 109.7M357.4 108.4L356 109M355.4 107.7L353.9 108.3M353.3 107L351.8 107.6M351.2 106.3L348.7 107.1M349.2 105.6L347.7 106.2M347.1 105L345.6 105.5M345 104.3L343.5 104.8M342.9 103.6L341.5 104.2M340.9 102.9L338.3 103.7M338.8 102.2L337.3 102.8M336.7 101.5L335.3 102.1M334.7 100.8L333.2 101.4M332.6 100.1L331.1 100.7M330.5 99.4L328 100.2M328.4 98.7L327 99.3M326.4 98L324.9 98.6M324.3 97.3L322.8 97.9M322.2 96.6L320.7 97.2M413.4 127.2L415.9 128.3M416.4 126.6L417.8 127.4M419.4 126L420.8 126.8M422.4 125.4L423.8 126.2M425.4 124.8L426.9 125.6M428.4 124.2L430.9 125.4M431.4 123.6L432.9 124.4M434.5 123L435.9 123.8M437.5 122.4L438.9 123.2M440.5 121.8L441.9 122.6M443.5 121.2L445.9 122.4M446.5 120.7L447.9 121.4M449.5 120.1L450.9 120.8M452.5 119.5L453.9 120.2M455.5 118.9L456.9 119.6M458.5 118.3L461 119.4M461.5 117.7L462.9 118.5M464.5 117.1L465.9 117.9M467.5 116.5L469 117.3M470.5 115.9L472 116.7M473.6 115.3L476 116.4M476.6 114.7L478 115.5M479.6 114.1L481 114.9M482.6 113.5L484 114.3M485.6 112.9L487 113.7M488.6 112.3L491.1 113.5M491.6 111.7L493 112.5M494.6 111.1L496 111.9M497.6 110.5L499 111.3M500.6 109.9L502 110.7M503.6 109.4L506.1 110.5M506.6 108.8L508.1 109.5M509.6 108.2L511.1 108.9M512.6 107.6L514.1 108.3M515.7 107L517.1 107.7M518.7 106.4L521.1 107.5M521.7 105.8L523.1 106.6M524.7 105.2L526.1 106M527.7 104.6L529.1 105.4M530.7 104L532.1 104.8M533.7 103.4L536.2 104.5" stroke="#111" stroke-width="0.9" fill="none"/>
<g font-size="9.6" font-weight="bold" fill="#111">
<text x="315.8" y="100.2" text-anchor="end" font-size="11">0</text>
<text x="315.8" y="83.7" text-anchor="end" font-size="11">25</text>
<text x="315.8" y="67.2" text-anchor="end" font-size="11">50</text>
<text x="315.8" y="50.8" text-anchor="end" font-size="11">75</text>
<text x="315.8" y="34.3" text-anchor="end" font-size="11">100</text>
<text transform="translate(410.2 132.7) rotate(-60)" text-anchor="end">0</text>
<text transform="translate(399.8 129.2) rotate(-60)" text-anchor="end">45</text>
<text transform="translate(389.5 125.7) rotate(-60)" text-anchor="end">90</text>
<text transform="translate(379.1 122.3) rotate(-60)" text-anchor="end">135</text>
<text transform="translate(368.8 118.8) rotate(-60)" text-anchor="end">180</text>
<text transform="translate(358.4 115.3) rotate(-60)" text-anchor="end">225</text>
<text transform="translate(348 111.8) rotate(-60)" text-anchor="end">270</text>
<text transform="translate(337.7 108.4) rotate(-60)" text-anchor="end">315</text>
<text transform="translate(327.3 104.9) rotate(-60)" text-anchor="end">360</text>
<text transform="translate(416.9 131.7) rotate(60)" text-anchor="start" dy="3">0</text>
<text transform="translate(431.9 128.7) rotate(60)" text-anchor="start" dy="3">0.1</text>
<text transform="translate(447 125.8) rotate(60)" text-anchor="start" dy="3">0.2</text>
<text transform="translate(462 122.8) rotate(60)" text-anchor="start" dy="3">0.3</text>
<text transform="translate(477.1 119.8) rotate(60)" text-anchor="start" dy="3">0.4</text>
<text transform="translate(492.1 116.8) rotate(60)" text-anchor="start" dy="3">0.5</text>
<text transform="translate(507.1 113.9) rotate(60)" text-anchor="start" dy="3">0.6</text>
<text transform="translate(522.2 110.9) rotate(60)" text-anchor="start" dy="3">0.7</text>
<text transform="translate(537.2 107.9) rotate(60)" text-anchor="start" dy="3">0.8</text>
</g>
<text x="402.6" y="29.8" font-size="14.5" font-weight="bold" text-anchor="middle" fill="#111">(b)</text>
<text transform="translate(291.5 64.3) rotate(-90)" font-size="12.3" font-weight="bold" text-anchor="middle" fill="#1a1a1a">Frequency</text>
<text x="319" y="151" font-size="12.3" font-weight="bold" fill="#1a1a1a">WD (<tspan font-size="8.5" dy="-5">o</tspan><tspan dy="5">)</tspan></text>
<text x="472" y="151" font-size="12.3" font-weight="bold" fill="#1a1a1a">LWC (gm<tspan font-size="8.5" dy="-5">-3</tspan><tspan dy="5">)</tspan></text>
<path d="M59.3 256.7L59.3 185.5M151.3 289L59.3 256.7M75.1 253.5L75.1 182.3M167.1 285.8L75.1 253.5M90.9 250.3L90.9 179.1M182.9 282.6L90.9 250.3M106.7 247.1L106.7 175.9M198.7 279.4L106.7 247.1M122.5 243.9L122.5 172.7M214.5 276.2L122.5 243.9M138.3 240.7L138.3 169.5M230.3 273L138.3 240.7M154.1 237.5L154.1 166.3M246.1 269.8L154.1 237.5M249.5 264L249.5 192.8M126.3 289L249.5 264M240.3 260.7L240.3 189.5M117.1 285.7L240.3 260.7M231.1 257.5L231.1 186.3M107.9 282.5L231.1 257.5M221.9 254.3L221.9 183.1M98.7 279.3L221.9 254.3M212.7 251L212.7 179.8M89.5 276L212.7 251M203.5 247.8L203.5 176.6M80.3 272.8L203.5 247.8M194.3 244.6L194.3 173.4M71.1 269.6L194.3 244.6M185.1 241.4L185.1 170.2M61.9 266.4L185.1 241.4M175.9 238.1L175.9 166.9M52.7 263.1L175.9 238.1M43.5 242.1L166.7 217.1M166.7 217.1L258.7 249.4M43.5 224.3L166.7 199.3M166.7 199.3L258.7 231.6M43.5 206.5L166.7 181.5M166.7 181.5L258.7 213.8" stroke="#d3d3d3" stroke-width="0.95" fill="none"/>
<path d="M43.5 188.7L166.7 163.7M166.7 163.7L258.7 196M166.7 234.9L166.7 163.7M43.5 259.9L166.7 234.9M166.7 234.9L258.7 267.2" stroke="#111" stroke-width="1.35" fill="none" stroke-linecap="square"/>
<g stroke="#0a1e33" stroke-width="0.45" stroke-linejoin="round">
<path class="l" d="M71.7,259.3 80.9,262.5 80.9,261.8 71.7,258.6z"/>
<path class="r" d="M80.9,262.5 90.3,260.6 90.3,259.9 80.9,261.8z"/>
<path class="t" d="M71.7,258.6 80.9,261.8 90.3,259.9 81.1,256.6z"/>
<path class="l" d="M147.2,249.1 156.4,252.3 156.4,251.6 147.2,248.3z"/>
<path class="r" d="M156.4,252.3 165.9,250.4 165.9,249.6 156.4,251.6z"/>
<path class="t" d="M147.2,248.3 156.4,251.6 165.9,249.6 156.7,246.4z"/>
<path class="l" d="M137.7,251 146.9,254.2 146.9,252.8 137.7,249.6z"/>
<path class="r" d="M146.9,254.2 156.4,252.3 156.4,250.9 146.9,252.8z"/>
<path class="t" d="M137.7,249.6 146.9,252.8 156.4,250.9 147.2,247.6z"/>
<path class="l" d="M128.2,252.9 137.4,256.1 137.4,253.3 128.2,250.1z"/>
<path class="r" d="M137.4,256.1 146.9,254.2 146.9,251.4 137.4,253.3z"/>
<path class="t" d="M128.2,250.1 137.4,253.3 146.9,251.4 137.7,248.1z"/>
<path class="l" d="M118.8,254.8 128,258.1 128,253.8 118.8,250.5z"/>
<path class="r" d="M128,258.1 137.4,256.1 137.4,251.9 128,253.8z"/>
<path class="t" d="M118.8,250.5 128,253.8 137.4,251.9 128.2,248.6z"/>
<path class="l" d="M109.3,256.7 118.5,260 118.5,254.3 109.3,251z"/>
<path class="r" d="M118.5,260 128,258.1 128,252.4 118.5,254.3z"/>
<path class="t" d="M109.3,251 118.5,254.3 128,252.4 118.8,249.1z"/>
<path class="l" d="M99.8,258.7 109,261.9 109,256.2 99.8,253z"/>
<path class="r" d="M109,261.9 118.5,260 118.5,254.3 109,256.2z"/>
<path class="t" d="M99.8,253 109,256.2 118.5,254.3 109.3,251z"/>
<path class="l" d="M90.3,260.6 99.5,263.8 99.5,260.3 90.3,257z"/>
<path class="r" d="M99.5,263.8 109,261.9 109,258.3 99.5,260.3z"/>
<path class="t" d="M90.3,257 99.5,260.3 109,258.3 99.8,255.1z"/>
<path class="l" d="M80.9,262.5 90.1,265.7 90.1,263.6 80.9,260.4z"/>
<path class="r" d="M90.1,265.7 99.5,263.8 99.5,261.7 90.1,263.6z"/>
<path class="t" d="M80.9,260.4 90.1,263.6 99.5,261.7 90.3,258.5z"/>
<path class="l" d="M175.3,248.4 184.5,251.7 184.5,251 175.3,247.7z"/>
<path class="r" d="M184.5,251.7 194,249.7 194,249 184.5,251z"/>
<path class="t" d="M175.3,247.7 184.5,251 194,249 184.8,245.8z"/>
<path class="l" d="M165.9,250.4 175.1,253.6 175.1,251.5 165.9,248.2z"/>
<path class="r" d="M175.1,253.6 184.5,251.7 184.5,249.5 175.1,251.5z"/>
<path class="t" d="M165.9,248.2 175.1,251.5 184.5,249.5 175.3,246.3z"/>
<path class="l" d="M156.4,252.3 165.6,255.5 165.6,251.2 156.4,248z"/>
<path class="r" d="M165.6,255.5 175.1,253.6 175.1,249.3 165.6,251.2z"/>
<path class="t" d="M156.4,248 165.6,251.2 175.1,249.3 165.9,246.1z"/>
<path class="l" d="M146.9,254.2 156.1,257.4 156.1,250.3 146.9,247.1z"/>
<path class="r" d="M156.1,257.4 165.6,255.5 165.6,248.4 156.1,250.3z"/>
<path class="t" d="M146.9,247.1 156.1,250.3 165.6,248.4 156.4,245.2z"/>
<path class="l" d="M137.4,256.1 146.6,259.4 146.6,248.7 137.4,245.4z"/>
<path class="r" d="M146.6,259.4 156.1,257.4 156.1,246.8 146.6,248.7z"/>
<path class="t" d="M137.4,245.4 146.6,248.7 156.1,246.8 146.9,243.5z"/>
<path class="l" d="M128,258.1 137.2,261.3 137.2,247 128,243.8z"/>
<path class="r" d="M137.2,261.3 146.6,259.4 146.6,245.1 137.2,247z"/>
<path class="t" d="M128,243.8 137.2,247 146.6,245.1 137.4,241.9z"/>
<path class="l" d="M118.5,260 127.7,263.2 127.7,245.4 118.5,242.2z"/>
<path class="r" d="M127.7,263.2 137.2,261.3 137.2,243.5 127.7,245.4z"/>
<path class="t" d="M118.5,242.2 127.7,245.4 137.2,243.5 128,240.3z"/>
<path class="l" d="M109,261.9 118.2,265.1 118.2,243.8 109,240.5z"/>
<path class="r" d="M118.2,265.1 127.7,263.2 127.7,241.8 118.2,243.8z"/>
<path class="t" d="M109,240.5 118.2,243.8 127.7,241.8 118.5,238.6z"/>
<path class="l" d="M99.5,263.8 108.7,267.1 108.7,245.7 99.5,242.5z"/>
<path class="r" d="M108.7,267.1 118.2,265.1 118.2,243.8 108.7,245.7z"/>
<path class="t" d="M99.5,242.5 108.7,245.7 118.2,243.8 109,240.5z"/>
<path class="l" d="M90.1,265.7 99.3,269 99.3,247.6 90.1,244.4z"/>
<path class="r" d="M99.3,269 108.7,267.1 108.7,245.7 99.3,247.6z"/>
<path class="t" d="M90.1,244.4 99.3,247.6 108.7,245.7 99.5,242.5z"/>
<path class="l" d="M194,249.7 203.2,253 203.2,252.3 194,249z"/>
<path class="r" d="M203.2,253 212.7,251 212.7,250.3 203.2,252.3z"/>
<path class="t" d="M194,249 203.2,252.3 212.7,250.3 203.5,247.1z"/>
<path class="l" d="M184.5,251.7 193.7,254.9 193.7,252.8 184.5,249.5z"/>
<path class="r" d="M193.7,254.9 203.2,253 203.2,250.8 193.7,252.8z"/>
<path class="t" d="M184.5,249.5 193.7,252.8 203.2,250.8 194,247.6z"/>
<path class="l" d="M175.1,253.6 184.3,256.8 184.3,252.5 175.1,249.3z"/>
<path class="r" d="M184.3,256.8 193.7,254.9 193.7,250.6 184.3,252.5z"/>
<path class="t" d="M175.1,249.3 184.3,252.5 193.7,250.6 184.5,247.4z"/>
<path class="l" d="M165.6,255.5 174.8,258.7 174.8,250.2 165.6,247z"/>
<path class="r" d="M174.8,258.7 184.3,256.8 184.3,248.3 174.8,250.2z"/>
<path class="t" d="M165.6,247 174.8,250.2 184.3,248.3 175.1,245z"/>
<path class="l" d="M156.1,257.4 165.3,260.7 165.3,247.8 156.1,244.6z"/>
<path class="r" d="M165.3,260.7 174.8,258.7 174.8,245.9 165.3,247.8z"/>
<path class="t" d="M156.1,244.6 165.3,247.8 174.8,245.9 165.6,242.7z"/>
<path class="l" d="M146.6,259.4 155.8,262.6 155.8,244.8 146.6,241.6z"/>
<path class="r" d="M155.8,262.6 165.3,260.7 165.3,242.9 155.8,244.8z"/>
<path class="t" d="M146.6,241.6 155.8,244.8 165.3,242.9 156.1,239.6z"/>
<path class="l" d="M137.2,261.3 146.4,264.5 146.4,239.6 137.2,236.4z"/>
<path class="r" d="M146.4,264.5 155.8,262.6 155.8,237.7 146.4,239.6z"/>
<path class="t" d="M137.2,236.4 146.4,239.6 155.8,237.7 146.6,234.4z"/>
<path class="l" d="M127.7,263.2 136.9,266.4 136.9,238 127.7,234.7z"/>
<path class="r" d="M136.9,266.4 146.4,264.5 146.4,236 136.9,238z"/>
<path class="t" d="M127.7,234.7 136.9,238 146.4,236 137.2,232.8z"/>
<path class="l" d="M118.2,265.1 127.4,268.4 127.4,236.3 118.2,233.1z"/>
<path class="r" d="M127.4,268.4 136.9,266.4 136.9,234.4 127.4,236.3z"/>
<path class="t" d="M118.2,233.1 127.4,236.3 136.9,234.4 127.7,231.2z"/>
<path class="l" d="M108.7,267.1 117.9,270.3 117.9,238.2 108.7,235z"/>
<path class="r" d="M117.9,270.3 127.4,268.4 127.4,236.3 117.9,238.2z"/>
<path class="t" d="M108.7,235 117.9,238.2 127.4,236.3 118.2,233.1z"/>
<path class="l" d="M99.3,269 108.5,272.2 108.5,243.7 99.3,240.5z"/>
<path class="r" d="M108.5,272.2 117.9,270.3 117.9,241.8 108.5,243.7z"/>
<path class="t" d="M99.3,240.5 108.5,243.7 117.9,241.8 108.7,238.6z"/>
<path class="l" d="M203.2,253 212.4,256.2 212.4,254.8 203.2,251.5z"/>
<path class="r" d="M212.4,256.2 221.9,254.3 221.9,252.9 212.4,254.8z"/>
<path class="t" d="M203.2,251.5 212.4,254.8 221.9,252.9 212.7,249.6z"/>
<path class="l" d="M193.7,254.9 202.9,258.1 202.9,253.9 193.7,250.6z"/>
<path class="r" d="M202.9,258.1 212.4,256.2 212.4,251.9 202.9,253.9z"/>
<path class="t" d="M193.7,250.6 202.9,253.9 212.4,251.9 203.2,248.7z"/>
<path class="l" d="M184.3,256.8 193.5,260 193.5,251.5 184.3,248.3z"/>
<path class="r" d="M193.5,260 202.9,258.1 202.9,249.6 193.5,251.5z"/>
<path class="t" d="M184.3,248.3 193.5,251.5 202.9,249.6 193.7,246.4z"/>
<path class="l" d="M174.8,258.7 184,262 184,247.7 174.8,244.5z"/>
<path class="r" d="M184,262 193.5,260 193.5,245.8 184,247.7z"/>
<path class="t" d="M174.8,244.5 184,247.7 193.5,245.8 184.3,242.6z"/>
<path class="l" d="M165.3,260.7 174.5,263.9 174.5,242.5 165.3,239.3z"/>
<path class="r" d="M174.5,263.9 184,262 184,240.6 174.5,242.5z"/>
<path class="t" d="M165.3,239.3 174.5,242.5 184,240.6 174.8,237.4z"/>
<path class="l" d="M155.8,262.6 165,265.8 165,237.3 155.8,234.1z"/>
<path class="r" d="M165,265.8 174.5,263.9 174.5,235.4 165,237.3z"/>
<path class="t" d="M155.8,234.1 165,237.3 174.5,235.4 165.3,232.2z"/>
<path class="l" d="M146.4,264.5 155.6,267.7 155.6,232.1 146.4,228.9z"/>
<path class="r" d="M155.6,267.7 165,265.8 165,230.2 155.6,232.1z"/>
<path class="t" d="M146.4,228.9 155.6,232.1 165,230.2 155.8,227z"/>
<path class="l" d="M136.9,266.4 146.1,269.7 146.1,226.9 136.9,223.7z"/>
<path class="r" d="M146.1,269.7 155.6,267.7 155.6,225 146.1,226.9z"/>
<path class="t" d="M136.9,223.7 146.1,226.9 155.6,225 146.4,221.8z"/>
<path class="l" d="M127.4,268.4 136.6,271.6 136.6,228.9 127.4,225.6z"/>
<path class="r" d="M136.6,271.6 146.1,269.7 146.1,226.9 136.6,228.9z"/>
<path class="t" d="M127.4,225.6 136.6,228.9 146.1,226.9 136.9,223.7z"/>
<path class="l" d="M117.9,270.3 127.1,273.5 127.1,237.9 117.9,234.7z"/>
<path class="r" d="M127.1,273.5 136.6,271.6 136.6,236 127.1,237.9z"/>
<path class="t" d="M117.9,234.7 127.1,237.9 136.6,236 127.4,232.8z"/>
<path class="l" d="M108.5,272.2 117.7,275.4 117.7,254.1 108.5,250.8z"/>
<path class="r" d="M117.7,275.4 127.1,273.5 127.1,252.2 117.7,254.1z"/>
<path class="t" d="M108.5,250.8 117.7,254.1 127.1,252.2 117.9,248.9z"/>
<path class="l" d="M89.5,276 98.7,279.3 98.7,278.6 89.5,275.3z"/>
<path class="r" d="M98.7,279.3 108.2,277.4 108.2,276.6 98.7,278.6z"/>
<path class="t" d="M89.5,275.3 98.7,278.6 108.2,276.6 99,273.4z"/>
<path class="l" d="M212.4,256.2 221.6,259.4 221.6,257.3 212.4,254.1z"/>
<path class="r" d="M221.6,259.4 231.1,257.5 231.1,255.4 221.6,257.3z"/>
<path class="t" d="M212.4,254.1 221.6,257.3 231.1,255.4 221.9,252.1z"/>
<path class="l" d="M202.9,258.1 212.1,261.4 212.1,252.8 202.9,249.6z"/>
<path class="r" d="M212.1,261.4 221.6,259.4 221.6,250.9 212.1,252.8z"/>
<path class="t" d="M202.9,249.6 212.1,252.8 221.6,250.9 212.4,247.7z"/>
<path class="l" d="M193.5,260 202.7,263.3 202.7,245.5 193.5,242.2z"/>
<path class="r" d="M202.7,263.3 212.1,261.4 212.1,243.6 202.7,245.5z"/>
<path class="t" d="M193.5,242.2 202.7,245.5 212.1,243.6 202.9,240.3z"/>
<path class="l" d="M184,262 193.2,265.2 193.2,240.3 184,237.1z"/>
<path class="r" d="M193.2,265.2 202.7,263.3 202.7,238.4 193.2,240.3z"/>
<path class="t" d="M184,237.1 193.2,240.3 202.7,238.4 193.5,235.1z"/>
<path class="l" d="M174.5,263.9 183.7,267.1 183.7,231.5 174.5,228.3z"/>
<path class="r" d="M183.7,267.1 193.2,265.2 193.2,229.6 183.7,231.5z"/>
<path class="t" d="M174.5,228.3 183.7,231.5 193.2,229.6 184,226.4z"/>
<path class="l" d="M165,265.8 174.2,269 174.2,226.3 165,223.1z"/>
<path class="r" d="M174.2,269 183.7,267.1 183.7,224.4 174.2,226.3z"/>
<path class="t" d="M165,223.1 174.2,226.3 183.7,224.4 174.5,221.2z"/>
<path class="l" d="M155.6,267.7 164.8,271 164.8,221.1 155.6,217.9z"/>
<path class="r" d="M164.8,271 174.2,269 174.2,219.2 164.8,221.1z"/>
<path class="t" d="M155.6,217.9 164.8,221.1 174.2,219.2 165,216z"/>
<path class="l" d="M146.1,269.7 155.3,272.9 155.3,215.9 146.1,212.7z"/>
<path class="r" d="M155.3,272.9 164.8,271 164.8,214 155.3,215.9z"/>
<path class="t" d="M146.1,212.7 155.3,215.9 164.8,214 155.6,210.8z"/>
<path class="l" d="M136.6,271.6 145.8,274.8 145.8,214.3 136.6,211.1z"/>
<path class="r" d="M145.8,274.8 155.3,272.9 155.3,212.4 145.8,214.3z"/>
<path class="t" d="M136.6,211.1 145.8,214.3 155.3,212.4 146.1,209.1z"/>
<path class="l" d="M127.1,273.5 136.3,276.7 136.3,219.8 127.1,216.6z"/>
<path class="r" d="M136.3,276.7 145.8,274.8 145.8,217.9 136.3,219.8z"/>
<path class="t" d="M127.1,216.6 136.3,219.8 145.8,217.9 136.6,214.6z"/>
<path class="l" d="M117.7,275.4 126.9,278.7 126.9,232.4 117.7,229.2z"/>
<path class="r" d="M126.9,278.7 136.3,276.7 136.3,230.5 126.9,232.4z"/>
<path class="t" d="M117.7,229.2 126.9,232.4 136.3,230.5 127.1,227.2z"/>
<path class="l" d="M221.6,259.4 230.8,262.7 230.8,259.1 221.6,255.9z"/>
<path class="r" d="M230.8,262.7 240.3,260.7 240.3,257.2 230.8,259.1z"/>
<path class="t" d="M221.6,255.9 230.8,259.1 240.3,257.2 231.1,253.9z"/>
<path class="l" d="M212.1,261.4 221.3,264.6 221.3,250.3 212.1,247.1z"/>
<path class="r" d="M221.3,264.6 230.8,262.7 230.8,248.4 221.3,250.3z"/>
<path class="t" d="M212.1,247.1 221.3,250.3 230.8,248.4 221.6,245.2z"/>
<path class="l" d="M202.7,263.3 211.9,266.5 211.9,241.6 202.7,238.4z"/>
<path class="r" d="M211.9,266.5 221.3,264.6 221.3,239.7 211.9,241.6z"/>
<path class="t" d="M202.7,238.4 211.9,241.6 221.3,239.7 212.1,236.4z"/>
<path class="l" d="M193.2,265.2 202.4,268.4 202.4,232.8 193.2,229.6z"/>
<path class="r" d="M202.4,268.4 211.9,266.5 211.9,230.9 202.4,232.8z"/>
<path class="t" d="M193.2,229.6 202.4,232.8 211.9,230.9 202.7,227.7z"/>
<path class="l" d="M183.7,267.1 192.9,270.4 192.9,224.1 183.7,220.8z"/>
<path class="r" d="M192.9,270.4 202.4,268.4 202.4,222.2 192.9,224.1z"/>
<path class="t" d="M183.7,220.8 192.9,224.1 202.4,222.2 193.2,218.9z"/>
<path class="l" d="M174.2,269 183.4,272.3 183.4,215.3 174.2,212.1z"/>
<path class="r" d="M183.4,272.3 192.9,270.4 192.9,213.4 183.4,215.3z"/>
<path class="t" d="M174.2,212.1 183.4,215.3 192.9,213.4 183.7,210.2z"/>
<path class="l" d="M164.8,271 174,274.2 174,213.7 164.8,210.5z"/>
<path class="r" d="M174,274.2 183.4,272.3 183.4,211.8 174,213.7z"/>
<path class="t" d="M164.8,210.5 174,213.7 183.4,211.8 174.2,208.5z"/>
<path class="l" d="M155.3,272.9 164.5,276.1 164.5,217 155.3,213.8z"/>
<path class="r" d="M164.5,276.1 174,274.2 174,215.1 164.5,217z"/>
<path class="t" d="M155.3,213.8 164.5,217 174,215.1 164.8,211.9z"/>
<path fill="#fff" stroke="#fff" stroke-width="0.9" d="M145.8,203.6 155,206.8 164.5,204.9 155.3,201.7z"/>
<path class="l" d="M145.8,274.8 155,278 155,206.8 145.8,203.6z"/>
<path class="r" d="M155,278 164.5,276.1 164.5,204.9 155,206.8z"/>
<path fill="#fff" stroke="#fff" stroke-width="0.9" d="M136.3,205.5 145.5,208.8 155,206.8 145.8,203.6z"/>
<path class="r" d="M145.5,280 155,278 155,206.8 145.5,208.8z"/>
<path fill="#fff" stroke="#fff" stroke-width="0.9" d="M126.9,207.5 136.1,210.7 145.5,208.8 136.3,205.5z"/>
<path class="l" d="M126.9,278.7 136.1,281.9 136.1,210.7 126.9,207.5z"/>
<path class="r" d="M136.1,281.9 145.5,280 145.5,208.8 136.1,210.7z"/>
<path class="l" d="M117.4,280.6 126.6,283.8 126.6,273.1 117.4,269.9z"/>
<path class="r" d="M126.6,283.8 136.1,281.9 136.1,271.2 126.6,273.1z"/>
<path class="t" d="M117.4,269.9 126.6,273.1 136.1,271.2 126.9,268z"/>
<path class="l" d="M107.9,282.5 117.1,285.7 117.1,273.6 107.9,270.4z"/>
<path class="r" d="M117.1,285.7 126.6,283.8 126.6,271.7 117.1,273.6z"/>
<path class="t" d="M107.9,270.4 117.1,273.6 126.6,271.7 117.4,268.5z"/>
<path class="l" d="M230.8,262.7 240,265.9 240,262.3 230.8,259.1z"/>
<path class="r" d="M240,265.9 249.5,264 249.5,260.4 240,262.3z"/>
<path class="t" d="M230.8,259.1 240,262.3 249.5,260.4 240.3,257.2z"/>
<path class="l" d="M221.3,264.6 230.5,267.8 230.5,255 221.3,251.8z"/>
<path class="r" d="M230.5,267.8 240,265.9 240,253.1 230.5,255z"/>
<path class="t" d="M221.3,251.8 230.5,255 240,253.1 230.8,249.8z"/>
<path class="l" d="M211.9,266.5 221.1,269.7 221.1,248 211.9,244.8z"/>
<path class="r" d="M221.1,269.7 230.5,267.8 230.5,246.1 221.1,248z"/>
<path class="t" d="M211.9,244.8 221.1,248 230.5,246.1 221.3,242.9z"/>
<path class="l" d="M202.4,268.4 211.6,271.7 211.6,236.1 202.4,232.8z"/>
<path class="r" d="M211.6,271.7 221.1,269.7 221.1,234.1 211.6,236.1z"/>
<path class="t" d="M202.4,232.8 211.6,236.1 221.1,234.1 211.9,230.9z"/>
<path class="l" d="M192.9,270.4 202.1,273.6 202.1,222.3 192.9,219.1z"/>
<path class="r" d="M202.1,273.6 211.6,271.7 211.6,220.4 202.1,222.3z"/>
<path class="t" d="M192.9,219.1 202.1,222.3 211.6,220.4 202.4,217.2z"/>
<path class="l" d="M183.4,272.3 192.6,275.5 192.6,206.4 183.4,203.2z"/>
<path class="r" d="M192.6,275.5 202.1,273.6 202.1,204.5 192.6,206.4z"/>
<path class="t" d="M183.4,203.2 192.6,206.4 202.1,204.5 192.9,201.3z"/>
<path class="l" d="M174,274.2 183.2,277.4 183.2,241.1 174,237.9z"/>
<path class="r" d="M183.2,277.4 192.6,275.5 192.6,239.2 183.2,241.1z"/>
<path class="t" d="M174,237.9 183.2,241.1 192.6,239.2 183.4,236z"/>
<path class="l" d="M164.5,276.1 173.7,279.4 173.7,247.3 164.5,244.1z"/>
<path class="r" d="M173.7,279.4 183.2,277.4 183.2,245.4 173.7,247.3z"/>
<path class="t" d="M164.5,244.1 173.7,247.3 183.2,245.4 174,242.2z"/>
<path class="l" d="M155,278 164.2,281.3 164.2,252.8 155,249.6z"/>
<path class="r" d="M164.2,281.3 173.7,279.4 173.7,250.9 164.2,252.8z"/>
<path class="t" d="M155,249.6 164.2,252.8 173.7,250.9 164.5,247.6z"/>
<path class="l" d="M145.5,280 154.7,283.2 154.7,247.6 145.5,244.4z"/>
<path class="r" d="M154.7,283.2 164.2,281.3 164.2,245.7 154.7,247.6z"/>
<path class="t" d="M145.5,244.4 154.7,247.6 164.2,245.7 155,242.4z"/>
<path fill="#fff" stroke="#fff" stroke-width="0.9" d="M136.1,210.7 145.3,213.9 154.7,212 145.5,208.8z"/>
<path class="l" d="M136.1,281.9 145.3,285.1 145.3,213.9 136.1,210.7z"/>
<path class="r" d="M145.3,285.1 154.7,283.2 154.7,212 145.3,213.9z"/>
<path class="l" d="M126.6,283.8 135.8,287 135.8,265 126.6,261.7z"/>
<path class="r" d="M135.8,287 145.3,285.1 145.3,263.1 135.8,265z"/>
<path class="t" d="M126.6,261.7 135.8,265 145.3,263.1 136.1,259.8z"/>
<path class="l" d="M117.1,285.7 126.3,289 126.3,278.3 117.1,275.1z"/>
<path class="r" d="M126.3,289 135.8,287 135.8,276.4 126.3,278.3z"/>
<path class="t" d="M117.1,275.1 126.3,278.3 135.8,276.4 126.6,273.1z"/>
<path class="l" d="M240,265.9 249.2,269.1 249.2,267 240,263.8z"/>
<path class="r" d="M249.2,269.1 258.7,267.2 258.7,265.1 249.2,267z"/>
<path class="t" d="M240,263.8 249.2,267 258.7,265.1 249.5,261.8z"/>
<path class="l" d="M230.5,267.8 239.7,271 239.7,262.5 230.5,259.3z"/>
<path class="r" d="M239.7,271 249.2,269.1 249.2,260.6 239.7,262.5z"/>
<path class="t" d="M230.5,259.3 239.7,262.5 249.2,260.6 240,257.3z"/>
<path class="l" d="M221.1,269.7 230.3,273 230.3,260.9 221.1,257.6z"/>
<path class="r" d="M230.3,273 239.7,271 239.7,258.9 230.3,260.9z"/>
<path class="t" d="M221.1,257.6 230.3,260.9 239.7,258.9 230.5,255.7z"/>
<path class="l" d="M211.6,271.7 220.8,274.9 220.8,259.2 211.6,256z"/>
<path class="r" d="M220.8,274.9 230.3,273 230.3,257.3 220.8,259.2z"/>
<path class="t" d="M211.6,256 220.8,259.2 230.3,257.3 221.1,254.1z"/>
<path class="l" d="M202.1,273.6 211.3,276.8 211.3,258.3 202.1,255.1z"/>
<path class="r" d="M211.3,276.8 220.8,274.9 220.8,256.4 211.3,258.3z"/>
<path class="t" d="M202.1,255.1 211.3,258.3 220.8,256.4 211.6,253.2z"/>
<path class="l" d="M192.6,275.5 201.8,278.7 201.8,253.8 192.6,250.6z"/>
<path class="r" d="M201.8,278.7 211.3,276.8 211.3,251.9 201.8,253.8z"/>
<path class="t" d="M192.6,250.6 201.8,253.8 211.3,251.9 202.1,248.7z"/>
<path class="l" d="M183.2,277.4 192.4,280.7 192.4,259.3 183.2,256.1z"/>
<path class="r" d="M192.4,280.7 201.8,278.7 201.8,257.4 192.4,259.3z"/>
<path class="t" d="M183.2,256.1 192.4,259.3 201.8,257.4 192.6,254.1z"/>
<path class="l" d="M173.7,279.4 182.9,282.6 182.9,269.1 173.7,265.8z"/>
<path class="r" d="M182.9,282.6 192.4,280.7 192.4,267.1 182.9,269.1z"/>
<path class="t" d="M173.7,265.8 182.9,269.1 192.4,267.1 183.2,263.9z"/>
<path class="l" d="M164.2,281.3 173.4,284.5 173.4,273.1 164.2,269.9z"/>
<path class="r" d="M173.4,284.5 182.9,282.6 182.9,271.2 173.4,273.1z"/>
<path class="t" d="M164.2,269.9 173.4,273.1 182.9,271.2 173.7,268z"/>
<path class="l" d="M154.7,283.2 163.9,286.4 163.9,271.5 154.7,268.2z"/>
<path class="r" d="M163.9,286.4 173.4,284.5 173.4,269.6 163.9,271.5z"/>
<path class="t" d="M154.7,268.2 163.9,271.5 173.4,269.6 164.2,266.3z"/>
<path class="l" d="M145.3,285.1 154.5,288.4 154.5,262 145.3,258.8z"/>
<path class="r" d="M154.5,288.4 163.9,286.4 163.9,260.1 154.5,262z"/>
<path class="t" d="M145.3,258.8 154.5,262 163.9,260.1 154.7,256.9z"/>
<path class="l" d="M135.8,287 145,290.3 145,284.6 135.8,281.4z"/>
<path class="r" d="M145,290.3 154.5,288.4 154.5,282.7 145,284.6z"/>
<path class="t" d="M135.8,281.4 145,284.6 154.5,282.7 145.3,279.4z"/>
<path class="l" d="M126.3,289 135.5,292.2 135.5,290.1 126.3,286.8z"/>
<path class="r" d="M135.5,292.2 145,290.3 145,288.1 135.5,290.1z"/>
<path class="t" d="M126.3,286.8 135.5,290.1 145,288.1 135.8,284.9z"/>
</g>
<path d="M136.3 214.8L136.3 205.5M145.5 218L145.5 208.8M145.8 212.9L145.8 203.6M154.7 221.3L154.7 212M155 216.1L155 206.8M155.3 211L155.3 201.7M164.5 214.2L164.5 204.9" stroke="#667" stroke-width="0.6" fill="none"/>
<path d="M43.5 259.9L43.5 188.7M43.5 259.9L135.5 292.2M135.5 292.2L258.7 267.2M258.7 267.2L258.7 196" stroke="#111" stroke-width="1.5" fill="none" stroke-linecap="square"/>
<path d="M43.5 259.9L40.3 259.5M43.5 256.3L41.7 256.1M43.5 252.8L41.7 252.6M43.5 249.2L41.7 249M43.5 245.7L41.7 245.4M43.5 242.1L40.3 241.7M43.5 238.5L41.7 238.3M43.5 235L41.7 234.8M43.5 231.4L41.7 231.2M43.5 227.9L41.7 227.6M43.5 224.3L40.3 223.9M43.5 220.7L41.7 220.5M43.5 217.2L41.7 217M43.5 213.6L41.7 213.4M43.5 210.1L41.7 209.8M43.5 206.5L40.3 206.1M43.5 202.9L41.7 202.7M43.5 199.4L41.7 199.2M43.5 195.8L41.7 195.6M43.5 192.3L41.7 192M43.5 188.7L40.3 188.3M135.5 292.2L133 293M133.7 291.6L132.2 292.2M131.8 290.9L130.3 291.5M130 290.3L128.5 290.9M128.1 289.6L126.7 290.2M126.3 289L123.8 289.8M124.5 288.3L123 288.9M122.6 287.7L121.1 288.3M120.8 287L119.3 287.6M118.9 286.4L117.5 287M117.1 285.7L114.6 286.6M115.3 285.1L113.8 285.7M113.4 284.4L111.9 285M111.6 283.8L110.1 284.4M109.7 283.2L108.3 283.8M107.9 282.5L105.4 283.3M106.1 281.9L104.6 282.5M104.2 281.2L102.7 281.8M102.4 280.6L100.9 281.2M100.5 279.9L99.1 280.5M98.7 279.3L96.2 280.1M96.9 278.6L95.4 279.2M95 278L93.5 278.6M93.2 277.3L91.7 277.9M91.3 276.7L89.9 277.3M89.5 276L87 276.9M87.7 275.4L86.2 276M85.8 274.8L84.3 275.4M84 274.1L82.5 274.7M82.1 273.5L80.7 274.1M80.3 272.8L77.8 273.6M78.5 272.2L77 272.8M76.6 271.5L75.1 272.1M74.8 270.9L73.3 271.5M72.9 270.2L71.5 270.8M71.1 269.6L68.6 270.4M69.3 268.9L67.8 269.5M67.4 268.3L65.9 268.9M65.6 267.7L64.1 268.3M63.7 267L62.3 267.6M61.9 266.4L59.4 267.2M60.1 265.7L58.6 266.3M58.2 265.1L56.7 265.7M56.4 264.4L54.9 265M54.5 263.8L53.1 264.4M52.7 263.1L50.2 263.9M50.9 262.5L49.4 263.1M49 261.8L47.5 262.4M47.2 261.2L45.7 261.8M45.3 260.5L43.9 261.1M43.5 259.9L42 260.5M135.5 292.2L138 293.4M138.7 291.6L140.1 292.4M141.8 290.9L143.2 291.7M145 290.3L146.4 291.1M148.1 289.6L149.6 290.4M151.3 289L153.7 290.2M154.5 288.4L155.9 289.2M157.6 287.7L159 288.5M160.8 287.1L162.2 287.9M163.9 286.4L165.3 287.2M167.1 285.8L169.5 287M170.2 285.1L171.7 285.9M173.4 284.5L174.8 285.3M176.6 283.9L178 284.7M179.7 283.2L181.1 284M182.9 282.6L185.3 283.7M186 281.9L187.5 282.7M189.2 281.3L190.6 282.1M192.4 280.7L193.8 281.5M195.5 280L196.9 280.8M198.7 279.4L201.1 280.5M201.8 278.7L203.3 279.5M205 278.1L206.4 278.9M208.2 277.5L209.6 278.3M211.3 276.8L212.7 277.6M214.5 276.2L216.9 277.3M217.6 275.5L219 276.3M220.8 274.9L222.2 275.7M224 274.3L225.4 275M227.1 273.6L228.5 274.4M230.3 273L232.7 274.1M233.4 272.3L234.8 273.1M236.6 271.7L238 272.5M239.7 271L241.2 271.8M242.9 270.4L244.3 271.2M246.1 269.8L248.5 270.9M249.2 269.1L250.6 269.9M252.4 268.5L253.8 269.3M255.5 267.8L257 268.6M258.7 267.2L260.1 268" stroke="#111" stroke-width="0.9" fill="none"/>
<g font-size="9.6" font-weight="bold" fill="#111">
<text x="38" y="263.8" text-anchor="end" font-size="11">0</text>
<text x="38" y="246" text-anchor="end" font-size="11">25</text>
<text x="38" y="228.2" text-anchor="end" font-size="11">50</text>
<text x="38" y="210.4" text-anchor="end" font-size="11">75</text>
<text x="38" y="192.6" text-anchor="end" font-size="11">100</text>
<text transform="translate(132.3 297.7) rotate(-52)" text-anchor="end">0</text>
<text transform="translate(123.1 294.5) rotate(-52)" text-anchor="end">0.5</text>
<text transform="translate(113.9 291.2) rotate(-52)" text-anchor="end">1</text>
<text transform="translate(104.7 288) rotate(-52)" text-anchor="end">1.5</text>
<text transform="translate(95.5 284.8) rotate(-52)" text-anchor="end">2</text>
<text transform="translate(86.3 281.5) rotate(-52)" text-anchor="end">2.5</text>
<text transform="translate(77.1 278.3) rotate(-52)" text-anchor="end">3</text>
<text transform="translate(67.9 275.1) rotate(-52)" text-anchor="end">3.5</text>
<text transform="translate(58.7 271.9) rotate(-52)" text-anchor="end">4</text>
<text transform="translate(49.5 268.6) rotate(-52)" text-anchor="end">4.5</text>
<text transform="translate(140 296.7) rotate(68)" text-anchor="start" dy="3">0</text>
<text transform="translate(155.8 293.5) rotate(68)" text-anchor="start" dy="3">5</text>
<text transform="translate(171.6 290.3) rotate(68)" text-anchor="start" dy="3">10</text>
<text transform="translate(187.4 287.1) rotate(68)" text-anchor="start" dy="3">15</text>
<text transform="translate(203.2 283.9) rotate(68)" text-anchor="start" dy="3">20</text>
<text transform="translate(219 280.7) rotate(68)" text-anchor="start" dy="3">25</text>
<text transform="translate(234.8 277.5) rotate(68)" text-anchor="start" dy="3">30</text>
<text transform="translate(250.6 274.3) rotate(68)" text-anchor="start" dy="3">35</text>
</g>
<text x="127" y="191" font-size="14.5" font-weight="bold" text-anchor="middle" fill="#111">(c)</text>
<text transform="translate(13.5 225.3) rotate(-90)" font-size="12.3" font-weight="bold" text-anchor="middle" fill="#1a1a1a">Frequency</text>
<text x="33" y="310" font-size="12.3" font-weight="bold" fill="#1a1a1a">WS (ms<tspan font-size="8.5" dy="-5">-1</tspan><tspan dy="5">)</tspan></text>
<text x="200" y="313.5" font-size="12.3" font-weight="bold" fill="#1a1a1a">D<tspan font-size="9.5" dy="4.5">m</tspan><tspan dy="-4.5"> (</tspan><tspan font-weight="normal" font-style="italic" font-family="Liberation Serif, serif" font-size="13">μ</tspan>m)</text>
<path d="M336.4 250.6L336.4 183.3M428.1 281.8L336.4 250.6M351.7 247.5L351.7 180.2M443.4 278.7L351.7 247.5M367 244.5L367 177.2M458.7 275.7L367 244.5M382.3 241.4L382.3 174.1M474 272.6L382.3 241.4M397.6 238.4L397.6 171.1M489.3 269.6L397.6 238.4M412.9 235.4L412.9 168.1M504.6 266.6L412.9 235.4M428.2 232.3L428.2 165M519.9 263.5L428.2 232.3M521.8 257.6L521.8 190.3M402.5 281.3L521.8 257.6M511.5 254.1L511.5 186.8M392.2 277.8L511.5 254.1M501.2 250.6L501.2 183.3M381.9 274.3L501.2 250.6M490.8 247.1L490.8 179.8M371.5 270.8L490.8 247.1M480.5 243.6L480.5 176.2M361.2 267.2L480.5 243.6M470.2 240L470.2 172.7M350.9 263.7L470.2 240M459.9 236.5L459.9 169.2M340.6 260.2L459.9 236.5M449.6 233L449.6 165.7M330.3 256.7L449.6 233M321.1 236.8L440.4 213.1M440.4 213.1L532.1 244.3M321.1 219.9L440.4 196.2M440.4 196.2L532.1 227.5M321.1 203.1L440.4 179.4M440.4 179.4L532.1 210.6" stroke="#d3d3d3" stroke-width="0.95" fill="none"/>
<path d="M321.1 186.3L440.4 162.6M440.4 162.6L532.1 193.8M440.4 229.9L440.4 162.6M321.1 253.6L440.4 229.9M440.4 229.9L532.1 261.1" stroke="#111" stroke-width="1.35" fill="none" stroke-linecap="square"/>
<g stroke="#0a1e33" stroke-width="0.45" stroke-linejoin="round">
<path class="l" d="M403.7,237.2 415.2,241.1 415.2,239.7 403.7,235.8z"/>
<path class="r" d="M415.2,241.1 424.3,239.3 424.3,237.9 415.2,239.7z"/>
<path class="t" d="M403.7,235.8 415.2,239.7 424.3,237.9 412.9,234z"/>
<path class="l" d="M394.5,239 406,242.9 406,240.2 394.5,236.3z"/>
<path class="r" d="M406,242.9 415.2,241.1 415.2,238.4 406,240.2z"/>
<path class="t" d="M394.5,236.3 406,240.2 415.2,238.4 403.7,234.5z"/>
<path class="l" d="M385.3,240.8 396.8,244.7 396.8,240.7 385.3,236.8z"/>
<path class="r" d="M396.8,244.7 406,242.9 406,238.9 396.8,240.7z"/>
<path class="t" d="M385.3,236.8 396.8,240.7 406,238.9 394.5,235z"/>
<path class="l" d="M376.2,242.7 387.6,246.6 387.6,241.2 376.2,237.3z"/>
<path class="r" d="M387.6,246.6 396.8,244.7 396.8,239.4 387.6,241.2z"/>
<path class="t" d="M376.2,237.3 387.6,241.2 396.8,239.4 385.3,235.5z"/>
<path class="l" d="M367,244.5 378.4,248.4 378.4,243 367,239.1z"/>
<path class="r" d="M378.4,248.4 387.6,246.6 387.6,241.2 378.4,243z"/>
<path class="t" d="M367,239.1 378.4,243 387.6,241.2 376.2,237.3z"/>
<path class="l" d="M357.8,246.3 369.3,250.2 369.3,244.8 357.8,240.9z"/>
<path class="r" d="M369.3,250.2 378.4,248.4 378.4,243 369.3,244.8z"/>
<path class="t" d="M357.8,240.9 369.3,244.8 378.4,243 367,239.1z"/>
<path class="l" d="M348.6,248.1 360.1,252 360.1,245.3 348.6,241.4z"/>
<path class="r" d="M360.1,252 369.3,250.2 369.3,243.5 360.1,245.3z"/>
<path class="t" d="M348.6,241.4 360.1,245.3 369.3,243.5 357.8,239.6z"/>
<path class="l" d="M339.5,250 350.9,253.9 350.9,245.8 339.5,241.9z"/>
<path class="r" d="M350.9,253.9 360.1,252 360.1,244 350.9,245.8z"/>
<path class="t" d="M339.5,241.9 350.9,245.8 360.1,244 348.6,240.1z"/>
<path class="l" d="M330.3,251.8 341.7,255.7 341.7,255 330.3,251.1z"/>
<path class="r" d="M341.7,255.7 350.9,253.9 350.9,253.2 341.7,255z"/>
<path class="t" d="M330.3,251.1 341.7,255 350.9,253.2 339.5,249.3z"/>
<path class="l" d="M424.3,239.3 435.8,243.2 435.8,239.8 424.3,235.9z"/>
<path class="r" d="M435.8,243.2 445,241.3 445,238 435.8,239.8z"/>
<path class="t" d="M424.3,235.9 435.8,239.8 445,238 433.5,234.1z"/>
<path class="l" d="M415.2,241.1 426.6,245 426.6,231.5 415.2,227.6z"/>
<path class="r" d="M426.6,245 435.8,243.2 435.8,229.7 426.6,231.5z"/>
<path class="t" d="M415.2,227.6 426.6,231.5 435.8,229.7 424.3,225.8z"/>
<path class="l" d="M406,242.9 417.4,246.8 417.4,226.6 406,222.7z"/>
<path class="r" d="M417.4,246.8 426.6,245 426.6,224.8 417.4,226.6z"/>
<path class="t" d="M406,222.7 417.4,226.6 426.6,224.8 415.2,220.9z"/>
<path class="l" d="M396.8,244.7 408.3,248.6 408.3,221.7 396.8,217.8z"/>
<path class="r" d="M408.3,248.6 417.4,246.8 417.4,219.9 408.3,221.7z"/>
<path class="t" d="M396.8,217.8 408.3,221.7 417.4,219.9 406,216z"/>
<path class="l" d="M387.6,246.6 399.1,250.5 399.1,223.5 387.6,219.6z"/>
<path class="r" d="M399.1,250.5 408.3,248.6 408.3,221.7 399.1,223.5z"/>
<path class="t" d="M387.6,219.6 399.1,223.5 408.3,221.7 396.8,217.8z"/>
<path class="l" d="M378.4,248.4 389.9,252.3 389.9,228.7 378.4,224.8z"/>
<path class="r" d="M389.9,252.3 399.1,250.5 399.1,226.9 389.9,228.7z"/>
<path class="t" d="M378.4,224.8 389.9,228.7 399.1,226.9 387.6,223z"/>
<path class="l" d="M369.3,250.2 380.7,254.1 380.7,233.9 369.3,230z"/>
<path class="r" d="M380.7,254.1 389.9,252.3 389.9,232.1 380.7,233.9z"/>
<path class="t" d="M369.3,230 380.7,233.9 389.9,232.1 378.4,228.2z"/>
<path class="l" d="M360.1,252 371.6,255.9 371.6,235.7 360.1,231.8z"/>
<path class="r" d="M371.6,255.9 380.7,254.1 380.7,233.9 371.6,235.7z"/>
<path class="t" d="M360.1,231.8 371.6,235.7 380.7,233.9 369.3,230z"/>
<path class="l" d="M350.9,253.9 362.4,257.8 362.4,216 350.9,212.1z"/>
<path class="r" d="M362.4,257.8 371.6,255.9 371.6,214.2 362.4,216z"/>
<path class="t" d="M350.9,212.1 362.4,216 371.6,214.2 360.1,210.3z"/>
<path class="l" d="M341.7,255.7 353.2,259.6 353.2,257.6 341.7,253.7z"/>
<path class="r" d="M353.2,259.6 362.4,257.8 362.4,255.7 353.2,257.6z"/>
<path class="t" d="M341.7,253.7 353.2,257.6 362.4,255.7 350.9,251.8z"/>
<path class="l" d="M332.6,257.5 344,261.4 344,260.1 332.6,256.2z"/>
<path class="r" d="M344,261.4 353.2,259.6 353.2,258.2 344,260.1z"/>
<path class="t" d="M332.6,256.2 344,260.1 353.2,258.2 341.7,254.3z"/>
<path class="l" d="M435.8,243.2 447.3,247.1 447.3,240.3 435.8,236.4z"/>
<path class="r" d="M447.3,247.1 456.4,245.2 456.4,238.5 447.3,240.3z"/>
<path class="t" d="M435.8,236.4 447.3,240.3 456.4,238.5 445,234.6z"/>
<path class="l" d="M426.6,245 438.1,248.9 438.1,225.3 426.6,221.4z"/>
<path class="r" d="M438.1,248.9 447.3,247.1 447.3,223.5 438.1,225.3z"/>
<path class="t" d="M426.6,221.4 438.1,225.3 447.3,223.5 435.8,219.6z"/>
<path class="l" d="M417.4,246.8 428.9,250.7 428.9,217.1 417.4,213.2z"/>
<path class="r" d="M428.9,250.7 438.1,248.9 438.1,215.2 428.9,217.1z"/>
<path class="t" d="M417.4,213.2 428.9,217.1 438.1,215.2 426.6,211.3z"/>
<path class="l" d="M408.3,248.6 419.7,252.5 419.7,205.4 408.3,201.5z"/>
<path class="r" d="M419.7,252.5 428.9,250.7 428.9,203.6 419.7,205.4z"/>
<path class="t" d="M408.3,201.5 419.7,205.4 428.9,203.6 417.4,199.7z"/>
<path class="l" d="M399.1,250.5 410.5,254.4 410.5,215.3 399.1,211.4z"/>
<path class="r" d="M410.5,254.4 419.7,252.5 419.7,213.5 410.5,215.3z"/>
<path class="t" d="M399.1,211.4 410.5,215.3 419.7,213.5 408.3,209.6z"/>
<path class="l" d="M389.9,252.3 401.4,256.2 401.4,225.9 389.9,222z"/>
<path class="r" d="M401.4,256.2 410.5,254.4 410.5,224.1 401.4,225.9z"/>
<path class="t" d="M389.9,222 401.4,225.9 410.5,224.1 399.1,220.2z"/>
<path class="l" d="M380.7,254.1 392.2,258 392.2,234.5 380.7,230.6z"/>
<path class="r" d="M392.2,258 401.4,256.2 401.4,232.6 392.2,234.5z"/>
<path class="t" d="M380.7,230.6 392.2,234.5 401.4,232.6 389.9,228.7z"/>
<path class="l" d="M371.6,255.9 383,259.8 383,239.6 371.6,235.7z"/>
<path class="r" d="M383,259.8 392.2,258 392.2,237.8 383,239.6z"/>
<path class="t" d="M371.6,235.7 383,239.6 392.2,237.8 380.7,233.9z"/>
<path class="l" d="M362.4,257.8 373.8,261.7 373.8,236.1 362.4,232.2z"/>
<path class="r" d="M373.8,261.7 383,259.8 383,234.3 373.8,236.1z"/>
<path class="t" d="M362.4,232.2 373.8,236.1 383,234.3 371.6,230.4z"/>
<path class="l" d="M353.2,259.6 364.7,263.5 364.7,260.8 353.2,256.9z"/>
<path class="r" d="M364.7,263.5 373.8,261.7 373.8,259 364.7,260.8z"/>
<path class="t" d="M353.2,256.9 364.7,260.8 373.8,259 362.4,255.1z"/>
<path class="l" d="M344,261.4 355.5,265.3 355.5,263.3 344,259.4z"/>
<path class="r" d="M355.5,265.3 364.7,263.5 364.7,261.5 355.5,263.3z"/>
<path class="t" d="M344,259.4 355.5,263.3 364.7,261.5 353.2,257.6z"/>
<path class="l" d="M447.3,247.1 458.7,251 458.7,241.5 447.3,237.6z"/>
<path class="r" d="M458.7,251 467.9,249.1 467.9,239.7 458.7,241.5z"/>
<path class="t" d="M447.3,237.6 458.7,241.5 467.9,239.7 456.4,235.8z"/>
<path class="l" d="M438.1,248.9 449.5,252.8 449.5,223.2 438.1,219.3z"/>
<path class="r" d="M449.5,252.8 458.7,251 458.7,221.4 449.5,223.2z"/>
<path class="t" d="M438.1,219.3 449.5,223.2 458.7,221.4 447.3,217.5z"/>
<path class="l" d="M428.9,250.7 440.4,254.6 440.4,214.2 428.9,210.3z"/>
<path class="r" d="M440.4,254.6 449.5,252.8 449.5,212.4 440.4,214.2z"/>
<path class="t" d="M428.9,210.3 440.4,214.2 449.5,212.4 438.1,208.5z"/>
<path class="l" d="M419.7,252.5 431.2,256.4 431.2,208 419.7,204.1z"/>
<path class="r" d="M431.2,256.4 440.4,254.6 440.4,206.2 431.2,208z"/>
<path class="t" d="M419.7,204.1 431.2,208 440.4,206.2 428.9,202.3z"/>
<path class="l" d="M410.5,254.4 422,258.3 422,198.4 410.5,194.5z"/>
<path class="r" d="M422,258.3 431.2,256.4 431.2,196.5 422,198.4z"/>
<path class="t" d="M410.5,194.5 422,198.4 431.2,196.5 419.7,192.6z"/>
<path class="l" d="M401.4,256.2 412.8,260.1 412.8,219.7 401.4,215.8z"/>
<path class="r" d="M412.8,260.1 422,258.3 422,217.9 412.8,219.7z"/>
<path class="t" d="M401.4,215.8 412.8,219.7 422,217.9 410.5,214z"/>
<path class="l" d="M392.2,258 403.7,261.9 403.7,220.2 392.2,216.3z"/>
<path class="r" d="M403.7,261.9 412.8,260.1 412.8,218.4 403.7,220.2z"/>
<path class="t" d="M392.2,216.3 403.7,220.2 412.8,218.4 401.4,214.5z"/>
<path class="l" d="M383,259.8 394.5,263.7 394.5,223.4 383,219.5z"/>
<path class="r" d="M394.5,263.7 403.7,261.9 403.7,221.5 394.5,223.4z"/>
<path class="t" d="M383,219.5 394.5,223.4 403.7,221.5 392.2,217.6z"/>
<path class="l" d="M373.8,261.7 385.3,265.6 385.3,213.7 373.8,209.8z"/>
<path class="r" d="M385.3,265.6 394.5,263.7 394.5,211.9 385.3,213.7z"/>
<path class="t" d="M373.8,209.8 385.3,213.7 394.5,211.9 383,208z"/>
<path class="l" d="M364.7,263.5 376.1,267.4 376.1,264.7 364.7,260.8z"/>
<path class="r" d="M376.1,267.4 385.3,265.6 385.3,262.9 376.1,264.7z"/>
<path class="t" d="M364.7,260.8 376.1,264.7 385.3,262.9 373.8,259z"/>
<path class="l" d="M355.5,265.3 367,269.2 367,267.2 355.5,263.3z"/>
<path class="r" d="M367,269.2 376.1,267.4 376.1,265.4 367,267.2z"/>
<path class="t" d="M355.5,263.3 367,267.2 376.1,265.4 364.7,261.5z"/>
<path class="l" d="M458.7,251 470.2,254.9 470.2,248.1 458.7,244.2z"/>
<path class="r" d="M470.2,254.9 479.4,253 479.4,246.3 470.2,248.1z"/>
<path class="t" d="M458.7,244.2 470.2,248.1 479.4,246.3 467.9,242.4z"/>
<path class="l" d="M449.5,252.8 461,256.7 461,236.5 449.5,232.6z"/>
<path class="r" d="M461,256.7 470.2,254.9 470.2,234.7 461,236.5z"/>
<path class="t" d="M449.5,232.6 461,236.5 470.2,234.7 458.7,230.8z"/>
<path class="l" d="M440.4,254.6 451.8,258.5 451.8,226.2 440.4,222.3z"/>
<path class="r" d="M451.8,258.5 461,256.7 461,224.4 451.8,226.2z"/>
<path class="t" d="M440.4,222.3 451.8,226.2 461,224.4 449.5,220.5z"/>
<path class="l" d="M431.2,256.4 442.7,260.3 442.7,220 431.2,216.1z"/>
<path class="r" d="M442.7,260.3 451.8,258.5 451.8,218.1 442.7,220z"/>
<path class="t" d="M431.2,216.1 442.7,220 451.8,218.1 440.4,214.2z"/>
<path class="l" d="M422,258.3 433.5,262.2 433.5,215.1 422,211.2z"/>
<path class="r" d="M433.5,262.2 442.7,260.3 442.7,213.2 433.5,215.1z"/>
<path class="t" d="M422,211.2 433.5,215.1 442.7,213.2 431.2,209.3z"/>
<path class="l" d="M412.8,260.1 424.3,264 424.3,219.6 412.8,215.7z"/>
<path class="r" d="M424.3,264 433.5,262.2 433.5,217.7 424.3,219.6z"/>
<path class="t" d="M412.8,215.7 424.3,219.6 433.5,217.7 422,213.8z"/>
<path class="l" d="M403.7,261.9 415.1,265.8 415.1,224.1 403.7,220.2z"/>
<path class="r" d="M415.1,265.8 424.3,264 424.3,222.3 415.1,224.1z"/>
<path class="t" d="M403.7,220.2 415.1,224.1 424.3,222.3 412.8,218.4z"/>
<path class="l" d="M394.5,263.7 405.9,267.6 405.9,230.6 394.5,226.7z"/>
<path class="r" d="M405.9,267.6 415.1,265.8 415.1,228.8 405.9,230.6z"/>
<path class="t" d="M394.5,226.7 405.9,230.6 415.1,228.8 403.7,224.9z"/>
<path class="l" d="M385.3,265.6 396.8,269.5 396.8,225 385.3,221.1z"/>
<path class="r" d="M396.8,269.5 405.9,267.6 405.9,223.2 396.8,225z"/>
<path class="t" d="M385.3,221.1 396.8,225 405.9,223.2 394.5,219.3z"/>
<path class="l" d="M376.1,267.4 387.6,271.3 387.6,267.9 376.1,264z"/>
<path class="r" d="M387.6,271.3 396.8,269.5 396.8,266.1 387.6,267.9z"/>
<path class="t" d="M376.1,264 387.6,267.9 396.8,266.1 385.3,262.2z"/>
<path class="l" d="M367,269.2 378.4,273.1 378.4,270.4 367,266.5z"/>
<path class="r" d="M378.4,273.1 387.6,271.3 387.6,268.6 378.4,270.4z"/>
<path class="t" d="M367,266.5 378.4,270.4 387.6,268.6 376.1,264.7z"/>
<path class="l" d="M470.2,254.9 481.6,258.8 481.6,253.4 470.2,249.5z"/>
<path class="r" d="M481.6,258.8 490.8,256.9 490.8,251.6 481.6,253.4z"/>
<path class="t" d="M470.2,249.5 481.6,253.4 490.8,251.6 479.4,247.7z"/>
<path class="l" d="M461,256.7 472.5,260.6 472.5,237 461,233.1z"/>
<path class="r" d="M472.5,260.6 481.6,258.8 481.6,235.2 472.5,237z"/>
<path class="t" d="M461,233.1 472.5,237 481.6,235.2 470.2,231.3z"/>
<path class="l" d="M451.8,258.5 463.3,262.4 463.3,238.9 451.8,235z"/>
<path class="r" d="M463.3,262.4 472.5,260.6 472.5,237 463.3,238.9z"/>
<path class="t" d="M451.8,235 463.3,238.9 472.5,237 461,233.1z"/>
<path class="l" d="M442.7,260.3 454.1,264.2 454.1,234 442.7,230.1z"/>
<path class="r" d="M454.1,264.2 463.3,262.4 463.3,232.1 454.1,234z"/>
<path class="t" d="M442.7,230.1 454.1,234 463.3,232.1 451.8,228.2z"/>
<path class="l" d="M433.5,262.2 444.9,266.1 444.9,229 433.5,225.1z"/>
<path class="r" d="M444.9,266.1 454.1,264.2 454.1,227.2 444.9,229z"/>
<path class="t" d="M433.5,225.1 444.9,229 454.1,227.2 442.7,223.3z"/>
<path class="l" d="M424.3,264 435.8,267.9 435.8,224.1 424.3,220.2z"/>
<path class="r" d="M435.8,267.9 444.9,266.1 444.9,222.3 435.8,224.1z"/>
<path class="t" d="M424.3,220.2 435.8,224.1 444.9,222.3 433.5,218.4z"/>
<path class="l" d="M415.1,265.8 426.6,269.7 426.6,221.3 415.1,217.4z"/>
<path class="r" d="M426.6,269.7 435.8,267.9 435.8,219.4 426.6,221.3z"/>
<path class="t" d="M415.1,217.4 426.6,221.3 435.8,219.4 424.3,215.5z"/>
<path class="l" d="M405.9,267.6 417.4,271.5 417.4,224.4 405.9,220.5z"/>
<path class="r" d="M417.4,271.5 426.6,269.7 426.6,222.6 417.4,224.4z"/>
<path class="t" d="M405.9,220.5 417.4,224.4 426.6,222.6 415.1,218.7z"/>
<path class="l" d="M396.8,269.5 408.2,273.4 408.2,218.8 396.8,214.9z"/>
<path class="r" d="M408.2,273.4 417.4,271.5 417.4,217 408.2,218.8z"/>
<path class="t" d="M396.8,214.9 408.2,218.8 417.4,217 405.9,213.1z"/>
<path class="l" d="M387.6,271.3 399.1,275.2 399.1,267.1 387.6,263.2z"/>
<path class="r" d="M399.1,275.2 408.2,273.4 408.2,265.3 399.1,267.1z"/>
<path class="t" d="M387.6,263.2 399.1,267.1 408.2,265.3 396.8,261.4z"/>
<path class="l" d="M378.4,273.1 389.9,277 389.9,270.3 378.4,266.4z"/>
<path class="r" d="M389.9,277 399.1,275.2 399.1,268.4 389.9,270.3z"/>
<path class="t" d="M378.4,266.4 389.9,270.3 399.1,268.4 387.6,264.5z"/>
<path class="l" d="M481.6,258.8 493.1,262.7 493.1,257.3 481.6,253.4z"/>
<path class="r" d="M493.1,262.7 502.3,260.8 502.3,255.5 493.1,257.3z"/>
<path class="t" d="M481.6,253.4 493.1,257.3 502.3,255.5 490.8,251.6z"/>
<path class="l" d="M472.5,260.6 483.9,264.5 483.9,252.4 472.5,248.5z"/>
<path class="r" d="M483.9,264.5 493.1,262.7 493.1,250.6 483.9,252.4z"/>
<path class="t" d="M472.5,248.5 483.9,252.4 493.1,250.6 481.6,246.7z"/>
<path class="l" d="M463.3,262.4 474.8,266.3 474.8,247.5 463.3,243.6z"/>
<path class="r" d="M474.8,266.3 483.9,264.5 483.9,245.6 474.8,247.5z"/>
<path class="t" d="M463.3,243.6 474.8,247.5 483.9,245.6 472.5,241.7z"/>
<path class="l" d="M454.1,264.2 465.6,268.1 465.6,244.6 454.1,240.7z"/>
<path class="r" d="M465.6,268.1 474.8,266.3 474.8,242.8 465.6,244.6z"/>
<path class="t" d="M454.1,240.7 465.6,244.6 474.8,242.8 463.3,238.9z"/>
<path class="l" d="M444.9,266.1 456.4,270 456.4,239.7 444.9,235.8z"/>
<path class="r" d="M456.4,270 465.6,268.1 465.6,237.9 456.4,239.7z"/>
<path class="t" d="M444.9,235.8 456.4,239.7 465.6,237.9 454.1,234z"/>
<path class="l" d="M435.8,267.9 447.2,271.8 447.2,234.8 435.8,230.9z"/>
<path class="r" d="M447.2,271.8 456.4,270 456.4,232.9 447.2,234.8z"/>
<path class="t" d="M435.8,230.9 447.2,234.8 456.4,232.9 444.9,229z"/>
<path class="l" d="M426.6,269.7 438,273.6 438,226.5 426.6,222.6z"/>
<path class="r" d="M438,273.6 447.2,271.8 447.2,224.7 438,226.5z"/>
<path class="t" d="M426.6,222.6 438,226.5 447.2,224.7 435.8,220.8z"/>
<path class="l" d="M417.4,271.5 428.9,275.4 428.9,216.9 417.4,213z"/>
<path class="r" d="M428.9,275.4 438,273.6 438,215.1 428.9,216.9z"/>
<path class="t" d="M417.4,213 428.9,216.9 438,215.1 426.6,211.2z"/>
<path class="l" d="M408.2,273.4 419.7,277.3 419.7,234.9 408.2,231z"/>
<path class="r" d="M419.7,277.3 428.9,275.4 428.9,233 419.7,234.9z"/>
<path class="t" d="M408.2,231 419.7,234.9 428.9,233 417.4,229.1z"/>
<path class="l" d="M399.1,275.2 410.5,279.1 410.5,267 399.1,263.1z"/>
<path class="r" d="M410.5,279.1 419.7,277.3 419.7,265.1 410.5,267z"/>
<path class="t" d="M399.1,263.1 410.5,267 419.7,265.1 408.2,261.2z"/>
<path class="l" d="M389.9,277 401.3,280.9 401.3,274.8 389.9,270.9z"/>
<path class="r" d="M401.3,280.9 410.5,279.1 410.5,273 401.3,274.8z"/>
<path class="t" d="M389.9,270.9 401.3,274.8 410.5,273 399.1,269.1z"/>
<path class="l" d="M493.1,262.7 504.6,266.6 504.6,263.2 493.1,259.3z"/>
<path class="r" d="M504.6,266.6 513.7,264.7 513.7,261.4 504.6,263.2z"/>
<path class="t" d="M493.1,259.3 504.6,263.2 513.7,261.4 502.3,257.5z"/>
<path class="l" d="M483.9,264.5 495.4,268.4 495.4,261.7 483.9,257.8z"/>
<path class="r" d="M495.4,268.4 504.6,266.6 504.6,259.8 495.4,261.7z"/>
<path class="t" d="M483.9,257.8 495.4,261.7 504.6,259.8 493.1,255.9z"/>
<path class="l" d="M474.8,266.3 486.2,270.2 486.2,262.1 474.8,258.2z"/>
<path class="r" d="M486.2,270.2 495.4,268.4 495.4,260.3 486.2,262.1z"/>
<path class="t" d="M474.8,258.2 486.2,262.1 495.4,260.3 483.9,256.4z"/>
<path class="l" d="M465.6,268.1 477,272 477,262.6 465.6,258.7z"/>
<path class="r" d="M477,272 486.2,270.2 486.2,260.8 477,262.6z"/>
<path class="t" d="M465.6,258.7 477,262.6 486.2,260.8 474.8,256.9z"/>
<path class="l" d="M456.4,270 467.9,273.9 467.9,261.7 456.4,257.8z"/>
<path class="r" d="M467.9,273.9 477,272 477,259.9 467.9,261.7z"/>
<path class="t" d="M456.4,257.8 467.9,261.7 477,259.9 465.6,256z"/>
<path class="l" d="M447.2,271.8 458.7,275.7 458.7,266.3 447.2,262.4z"/>
<path class="r" d="M458.7,275.7 467.9,273.9 467.9,264.4 458.7,266.3z"/>
<path class="t" d="M447.2,262.4 458.7,266.3 467.9,264.4 456.4,260.5z"/>
<path class="l" d="M438,273.6 449.5,277.5 449.5,266.7 438,262.8z"/>
<path class="r" d="M449.5,277.5 458.7,275.7 458.7,264.9 449.5,266.7z"/>
<path class="t" d="M438,262.8 449.5,266.7 458.7,264.9 447.2,261z"/>
<path class="l" d="M428.9,275.4 440.3,279.3 440.3,264.5 428.9,260.6z"/>
<path class="r" d="M440.3,279.3 449.5,277.5 449.5,262.7 440.3,264.5z"/>
<path class="t" d="M428.9,260.6 440.3,264.5 449.5,262.7 438,258.8z"/>
<path class="l" d="M419.7,277.3 431.2,281.2 431.2,267.7 419.7,263.8z"/>
<path class="r" d="M431.2,281.2 440.3,279.3 440.3,265.9 431.2,267.7z"/>
<path class="t" d="M419.7,263.8 431.2,267.7 440.3,265.9 428.9,262z"/>
<path class="l" d="M410.5,279.1 422,283 422,277.6 410.5,273.7z"/>
<path class="r" d="M422,283 431.2,281.2 431.2,275.8 422,277.6z"/>
<path class="t" d="M410.5,273.7 422,277.6 431.2,275.8 419.7,271.9z"/>
<path class="l" d="M401.3,280.9 412.8,284.8 412.8,282.8 401.3,278.9z"/>
<path class="r" d="M412.8,284.8 422,283 422,281 412.8,282.8z"/>
<path class="t" d="M401.3,278.9 412.8,282.8 422,281 410.5,277.1z"/>
</g>
<path d="M321.1 253.6L321.1 186.3M321.1 253.6L412.8 284.8M412.8 284.8L532.1 261.1M532.1 261.1L532.1 193.8" stroke="#111" stroke-width="1.5" fill="none" stroke-linecap="square"/>
<path d="M321.1 253.6L317.9 253.2M321.1 250.2L319.3 250M321.1 246.9L319.3 246.7M321.1 243.5L319.3 243.3M321.1 240.1L319.3 239.9M321.1 236.8L317.9 236.4M321.1 233.4L319.3 233.2M321.1 230L319.3 229.8M321.1 226.7L319.3 226.5M321.1 223.3L319.3 223.1M321.1 219.9L317.9 219.6M321.1 216.6L319.3 216.4M321.1 213.2L319.3 213M321.1 209.9L319.3 209.6M321.1 206.5L319.3 206.3M321.1 203.1L317.9 202.7M321.1 199.8L319.3 199.5M321.1 196.4L319.3 196.2M321.1 193L319.3 192.8M321.1 189.7L319.3 189.4M321.1 186.3L317.9 185.9M412.8 284.8L410.2 285.6M410.7 284.1L409.3 284.7M408.7 283.4L407.2 284M406.6 282.7L405.1 283.3M404.5 282L403.1 282.6M402.5 281.3L399.9 282.1M400.4 280.6L398.9 281.2M398.4 279.9L396.9 280.5M396.3 279.2L394.8 279.8M394.2 278.5L392.8 279.1M392.2 277.8L389.6 278.6M390.1 277.1L388.6 277.7M388 276.4L386.6 277M386 275.7L384.5 276.3M383.9 275L382.4 275.6M381.9 274.3L379.3 275.1M379.8 273.6L378.3 274.2M377.7 272.9L376.3 273.5M375.7 272.2L374.2 272.8M373.6 271.5L372.1 272.1M371.5 270.8L369 271.6M369.5 270.1L368 270.7M367.4 269.4L365.9 269.9M365.3 268.7L363.9 269.2M363.3 268L361.8 268.5M361.2 267.2L358.7 268.1M359.2 266.5L357.7 267.1M357.1 265.8L355.6 266.4M355 265.1L353.6 265.7M353 264.4L351.5 265M350.9 263.7L348.4 264.5M348.8 263L347.4 263.6M346.8 262.3L345.3 262.9M344.7 261.6L343.2 262.2M342.6 260.9L341.2 261.5M340.6 260.2L338 261M338.5 259.5L337.1 260.1M336.5 258.8L335 259.4M334.4 258.1L332.9 258.7M332.3 257.4L330.9 258M330.3 256.7L327.7 257.5M328.2 256L326.7 256.6M326.1 255.3L324.7 255.9M324.1 254.6L322.6 255.2M322 253.9L320.5 254.5M412.8 284.8L415.3 285.9M415.9 284.2L417.3 285M418.9 283.6L420.3 284.4M422 283L423.4 283.8M425 282.4L426.5 283.2M428.1 281.8L430.6 282.9M431.2 281.2L432.6 281.9M434.2 280.5L435.6 281.3M437.3 279.9L438.7 280.7M440.3 279.3L441.8 280.1M443.4 278.7L445.9 279.9M446.4 278.1L447.9 278.9M449.5 277.5L450.9 278.3M452.6 276.9L454 277.7M455.6 276.3L457 277.1M458.7 275.7L461.1 276.8M461.7 275.1L463.2 275.9M464.8 274.5L466.2 275.3M467.9 273.9L469.3 274.6M470.9 273.3L472.3 274M474 272.6L476.4 273.8M477 272L478.5 272.8M480.1 271.4L481.5 272.2M483.2 270.8L484.6 271.6M486.2 270.2L487.6 271M489.3 269.6L491.7 270.7M492.3 269L493.8 269.8M495.4 268.4L496.8 269.2M498.5 267.8L499.9 268.6M501.5 267.2L502.9 268M504.6 266.6L507 267.7M507.6 266L509 266.7M510.7 265.4L512.1 266.1M513.7 264.7L515.2 265.5M516.8 264.1L518.2 264.9M519.9 263.5L522.3 264.7M522.9 262.9L524.3 263.7M526 262.3L527.4 263.1M529 261.7L530.5 262.5M532.1 261.1L533.5 261.9" stroke="#111" stroke-width="0.9" fill="none"/>
<g font-size="9.6" font-weight="bold" fill="#111">
<text x="315.6" y="257.5" text-anchor="end" font-size="11">0</text>
<text x="315.6" y="240.7" text-anchor="end" font-size="11">25</text>
<text x="315.6" y="223.8" text-anchor="end" font-size="11">50</text>
<text x="315.6" y="207" text-anchor="end" font-size="11">75</text>
<text x="315.6" y="190.2" text-anchor="end" font-size="11">100</text>
<text transform="translate(409.6 290.3) rotate(-60)" text-anchor="end">0</text>
<text transform="translate(399.3 286.8) rotate(-60)" text-anchor="end">45</text>
<text transform="translate(389 283.3) rotate(-60)" text-anchor="end">90</text>
<text transform="translate(378.7 279.8) rotate(-60)" text-anchor="end">135</text>
<text transform="translate(368.3 276.3) rotate(-60)" text-anchor="end">180</text>
<text transform="translate(358 272.8) rotate(-60)" text-anchor="end">225</text>
<text transform="translate(347.7 269.2) rotate(-60)" text-anchor="end">270</text>
<text transform="translate(337.4 265.7) rotate(-60)" text-anchor="end">315</text>
<text transform="translate(327.1 262.2) rotate(-60)" text-anchor="end">360</text>
<text transform="translate(417.3 289.3) rotate(68)" text-anchor="start" dy="3">0</text>
<text transform="translate(432.6 286.3) rotate(68)" text-anchor="start" dy="3">5</text>
<text transform="translate(447.9 283.2) rotate(68)" text-anchor="start" dy="3">10</text>
<text transform="translate(463.2 280.2) rotate(68)" text-anchor="start" dy="3">15</text>
<text transform="translate(478.5 277.1) rotate(68)" text-anchor="start" dy="3">20</text>
<text transform="translate(493.8 274.1) rotate(68)" text-anchor="start" dy="3">25</text>
<text transform="translate(509.1 271.1) rotate(68)" text-anchor="start" dy="3">30</text>
<text transform="translate(524.4 268) rotate(68)" text-anchor="start" dy="3">35</text>
</g>
<text x="407" y="186.3" font-size="14.5" font-weight="bold" text-anchor="middle" fill="#111">(d)</text>
<text transform="translate(-100 220.9) rotate(-90)" font-size="12.3" font-weight="bold" text-anchor="middle" fill="#1a1a1a">Frequency</text>
<text x="320" y="307" font-size="12.3" font-weight="bold" fill="#1a1a1a">WD (<tspan font-size="8.5" dy="-5">o</tspan><tspan dy="5">)</tspan></text>
<text x="471" y="302" font-size="12.3" font-weight="bold" fill="#1a1a1a">D<tspan font-size="9.5" dy="4.5">m</tspan><tspan dy="-4.5">(</tspan><tspan font-weight="normal" font-style="italic" font-family="Liberation Serif, serif" font-size="13">μ</tspan>m)</text>
<path d="M58.5 408.2L58.5 341.2M150.8 438.7L58.5 408.2M73.2 405.3L73.2 338.3M165.5 435.8L73.2 405.3M87.9 402.4L87.9 335.4M180.2 432.9L87.9 402.4M102.7 399.5L102.7 332.5M194.9 430L102.7 399.5M117.4 396.5L117.4 329.5M209.7 427L117.4 396.5M132.1 393.6L132.1 326.6M224.4 424.1L132.1 393.6M146.8 390.7L146.8 323.7M239.1 421.2L146.8 390.7M242 414.4L242 347.4M124.3 437.7L242 414.4M230.1 410.5L230.1 343.5M112.4 433.8L230.1 410.5M218.3 406.6L218.3 339.6M100.6 429.9L218.3 406.6M206.5 402.7L206.5 335.7M88.8 426L206.5 402.7M194.6 398.7L194.6 331.7M76.9 422L194.6 398.7M182.8 394.8L182.8 327.8M65.1 418.1L182.8 394.8M171 390.9L171 323.9M53.3 414.2L171 390.9M43.8 394.4L161.5 371.1M161.5 371.1L253.8 401.6M43.8 377.6L161.5 354.3M161.5 354.3L253.8 384.8M43.8 360.9L161.5 337.6M161.5 337.6L253.8 368.1" stroke="#d3d3d3" stroke-width="0.95" fill="none"/>
<path d="M43.8 344.1L161.5 320.8M161.5 320.8L253.8 351.3M161.5 387.8L161.5 320.8M43.8 411.1L161.5 387.8M161.5 387.8L253.8 418.3" stroke="#111" stroke-width="1.35" fill="none" stroke-linecap="square"/>
<g stroke="#0a1e33" stroke-width="0.45" stroke-linejoin="round">
<path class="l" d="M43.8,411.1 50.9,413.4 50.9,412.8 43.8,410.4z"/>
<path class="r" d="M50.9,413.4 65.6,410.5 65.6,409.9 50.9,412.8z"/>
<path class="t" d="M43.8,410.4 50.9,412.8 65.6,409.9 58.5,407.5z"/>
<path class="l" d="M124.5,398.9 131.6,401.2 131.6,400.6 124.5,398.2z"/>
<path class="r" d="M131.6,401.2 146.3,398.3 146.3,397.6 131.6,400.6z"/>
<path class="t" d="M124.5,398.2 131.6,400.6 146.3,397.6 139.2,395.3z"/>
<path class="l" d="M109.8,401.8 116.9,404.1 116.9,403.5 109.8,401.1z"/>
<path class="r" d="M116.9,404.1 131.6,401.2 131.6,400.6 116.9,403.5z"/>
<path class="t" d="M109.8,401.1 116.9,403.5 131.6,400.6 124.5,398.2z"/>
<path class="l" d="M95,404.7 102.1,407.1 102.1,406.4 95,404z"/>
<path class="r" d="M102.1,407.1 116.9,404.1 116.9,403.5 102.1,406.4z"/>
<path class="t" d="M95,404 102.1,406.4 116.9,403.5 109.8,401.1z"/>
<path class="l" d="M80.3,407.6 87.4,410 87.4,409.3 80.3,407z"/>
<path class="r" d="M87.4,410 102.1,407.1 102.1,406.4 87.4,409.3z"/>
<path class="t" d="M80.3,407 87.4,409.3 102.1,406.4 95,404z"/>
<path class="l" d="M65.6,410.5 72.7,412.9 72.7,412.2 65.6,409.9z"/>
<path class="r" d="M72.7,412.9 87.4,410 87.4,409.3 72.7,412.2z"/>
<path class="t" d="M65.6,409.9 72.7,412.2 87.4,409.3 80.3,407z"/>
<path class="l" d="M50.9,413.4 58,415.8 58,414.5 50.9,412.1z"/>
<path class="r" d="M58,415.8 72.7,412.9 72.7,411.5 58,414.5z"/>
<path class="t" d="M50.9,412.1 58,414.5 72.7,411.5 65.6,409.2z"/>
<path class="l" d="M161,395.4 168.1,397.8 168.1,397.1 161,394.7z"/>
<path class="r" d="M168.1,397.8 182.8,394.8 182.8,394.2 168.1,397.1z"/>
<path class="t" d="M161,394.7 168.1,397.1 182.8,394.2 175.7,391.8z"/>
<path class="l" d="M146.3,398.3 153.4,400.7 153.4,398.7 146.3,396.3z"/>
<path class="r" d="M153.4,400.7 168.1,397.8 168.1,395.7 153.4,398.7z"/>
<path class="t" d="M146.3,396.3 153.4,398.7 168.1,395.7 161,393.4z"/>
<path class="l" d="M131.6,401.2 138.7,403.6 138.7,400.2 131.6,397.9z"/>
<path class="r" d="M138.7,403.6 153.4,400.7 153.4,397.3 138.7,400.2z"/>
<path class="t" d="M131.6,397.9 138.7,400.2 153.4,397.3 146.3,395z"/>
<path class="l" d="M116.9,404.1 124,406.5 124,403.1 116.9,400.8z"/>
<path class="r" d="M124,406.5 138.7,403.6 138.7,400.2 124,403.1z"/>
<path class="t" d="M116.9,400.8 124,403.1 138.7,400.2 131.6,397.9z"/>
<path class="l" d="M102.1,407.1 109.2,409.4 109.2,406.7 102.1,404.4z"/>
<path class="r" d="M109.2,409.4 124,406.5 124,403.8 109.2,406.7z"/>
<path class="t" d="M102.1,404.4 109.2,406.7 124,403.8 116.9,401.5z"/>
<path class="l" d="M87.4,410 94.5,412.3 94.5,410.3 87.4,408z"/>
<path class="r" d="M94.5,412.3 109.2,409.4 109.2,407.4 94.5,410.3z"/>
<path class="t" d="M87.4,408 94.5,410.3 109.2,407.4 102.1,405z"/>
<path class="l" d="M72.7,412.9 79.8,415.2 79.8,413.9 72.7,411.5z"/>
<path class="r" d="M79.8,415.2 94.5,412.3 94.5,411 79.8,413.9z"/>
<path class="t" d="M72.7,411.5 79.8,413.9 94.5,411 87.4,408.6z"/>
<path class="l" d="M58,415.8 65.1,418.1 65.1,415.5 58,413.1z"/>
<path class="r" d="M65.1,418.1 79.8,415.2 79.8,412.5 65.1,415.5z"/>
<path class="t" d="M58,413.1 65.1,415.5 79.8,412.5 72.7,410.2z"/>
<path class="l" d="M168.1,397.8 175.2,400.1 175.2,397.4 168.1,395.1z"/>
<path class="r" d="M175.2,400.1 189.9,397.2 189.9,394.5 175.2,397.4z"/>
<path class="t" d="M168.1,395.1 175.2,397.4 189.9,394.5 182.8,392.2z"/>
<path class="l" d="M153.4,400.7 160.5,403 160.5,397.6 153.4,395.3z"/>
<path class="r" d="M160.5,403 175.2,400.1 175.2,394.7 160.5,397.6z"/>
<path class="t" d="M153.4,395.3 160.5,397.6 175.2,394.7 168.1,392.4z"/>
<path class="l" d="M138.7,403.6 145.8,405.9 145.8,396.5 138.7,394.2z"/>
<path class="r" d="M145.8,405.9 160.5,403 160.5,393.6 145.8,396.5z"/>
<path class="t" d="M138.7,394.2 145.8,396.5 160.5,393.6 153.4,391.3z"/>
<path class="l" d="M124,406.5 131.1,408.8 131.1,399.5 124,397.1z"/>
<path class="r" d="M131.1,408.8 145.8,405.9 145.8,396.5 131.1,399.5z"/>
<path class="t" d="M124,397.1 131.1,399.5 145.8,396.5 138.7,394.2z"/>
<path class="l" d="M109.2,409.4 116.3,411.7 116.3,402.4 109.2,400z"/>
<path class="r" d="M116.3,411.7 131.1,408.8 131.1,399.5 116.3,402.4z"/>
<path class="t" d="M109.2,400 116.3,402.4 131.1,399.5 124,397.1z"/>
<path class="l" d="M94.5,412.3 101.6,414.7 101.6,409.3 94.5,407z"/>
<path class="r" d="M101.6,414.7 116.3,411.7 116.3,406.4 101.6,409.3z"/>
<path class="t" d="M94.5,407 101.6,409.3 116.3,406.4 109.2,404z"/>
<path class="l" d="M79.8,415.2 86.9,417.6 86.9,413.6 79.8,411.2z"/>
<path class="r" d="M86.9,417.6 101.6,414.7 101.6,410.6 86.9,413.6z"/>
<path class="t" d="M79.8,411.2 86.9,413.6 101.6,410.6 94.5,408.3z"/>
<path class="l" d="M65.1,418.1 72.2,420.5 72.2,411.8 65.1,409.4z"/>
<path class="r" d="M72.2,420.5 86.9,417.6 86.9,408.9 72.2,411.8z"/>
<path class="t" d="M65.1,409.4 72.2,411.8 86.9,408.9 79.8,406.5z"/>
<path class="l" d="M175.2,400.1 182.3,402.4 182.3,397.1 175.2,394.7z"/>
<path class="r" d="M182.3,402.4 197,399.5 197,394.2 182.3,397.1z"/>
<path class="t" d="M175.2,394.7 182.3,397.1 197,394.2 189.9,391.8z"/>
<path class="l" d="M160.5,403 167.6,405.4 167.6,394.6 160.5,392.3z"/>
<path class="r" d="M167.6,405.4 182.3,402.4 182.3,391.7 167.6,394.6z"/>
<path class="t" d="M160.5,392.3 167.6,394.6 182.3,391.7 175.2,389.4z"/>
<path class="l" d="M145.8,405.9 152.9,408.3 152.9,392.9 145.8,390.5z"/>
<path class="r" d="M152.9,408.3 167.6,405.4 167.6,389.9 152.9,392.9z"/>
<path class="t" d="M145.8,390.5 152.9,392.9 167.6,389.9 160.5,387.6z"/>
<path class="l" d="M131.1,408.8 138.1,411.2 138.1,392.4 131.1,390.1z"/>
<path class="r" d="M138.1,411.2 152.9,408.3 152.9,389.5 138.1,392.4z"/>
<path class="t" d="M131.1,390.1 138.1,392.4 152.9,389.5 145.8,387.2z"/>
<path class="l" d="M116.3,411.7 123.4,414.1 123.4,394 116.3,391.6z"/>
<path class="r" d="M123.4,414.1 138.1,411.2 138.1,391.1 123.4,394z"/>
<path class="t" d="M116.3,391.6 123.4,394 138.1,391.1 131.1,388.7z"/>
<path class="l" d="M101.6,414.7 108.7,417 108.7,403.6 101.6,401.3z"/>
<path class="r" d="M108.7,417 123.4,414.1 123.4,400.7 108.7,403.6z"/>
<path class="t" d="M101.6,401.3 108.7,403.6 123.4,400.7 116.3,398.3z"/>
<path class="l" d="M86.9,417.6 94,419.9 94,411.9 86.9,409.5z"/>
<path class="r" d="M94,419.9 108.7,417 108.7,409 94,411.9z"/>
<path class="t" d="M86.9,409.5 94,411.9 108.7,409 101.6,406.6z"/>
<path class="l" d="M72.2,420.5 79.3,422.8 79.3,413.5 72.2,411.1z"/>
<path class="r" d="M79.3,422.8 94,419.9 94,410.5 79.3,413.5z"/>
<path class="t" d="M72.2,411.1 79.3,413.5 94,410.5 86.9,408.2z"/>
<path class="l" d="M182.3,402.4 189.4,404.8 189.4,401.4 182.3,399.1z"/>
<path class="r" d="M189.4,404.8 204.1,401.9 204.1,398.5 189.4,401.4z"/>
<path class="t" d="M182.3,399.1 189.4,401.4 204.1,398.5 197,396.2z"/>
<path class="l" d="M167.6,405.4 174.7,407.7 174.7,391 167.6,388.6z"/>
<path class="r" d="M174.7,407.7 189.4,404.8 189.4,388 174.7,391z"/>
<path class="t" d="M167.6,388.6 174.7,391 189.4,388 182.3,385.7z"/>
<path class="l" d="M152.9,408.3 160,410.6 160,393.2 152.9,390.8z"/>
<path class="r" d="M160,410.6 174.7,407.7 174.7,390.3 160,393.2z"/>
<path class="t" d="M152.9,390.8 160,393.2 174.7,390.3 167.6,387.9z"/>
<path class="l" d="M138.1,411.2 145.2,413.5 145.2,390.7 138.1,388.4z"/>
<path class="r" d="M145.2,413.5 160,410.6 160,387.8 145.2,390.7z"/>
<path class="t" d="M138.1,388.4 145.2,390.7 160,387.8 152.9,385.5z"/>
<path class="l" d="M123.4,414.1 130.5,416.4 130.5,392.3 123.4,390z"/>
<path class="r" d="M130.5,416.4 145.2,413.5 145.2,389.4 130.5,392.3z"/>
<path class="t" d="M123.4,390 130.5,392.3 145.2,389.4 138.1,387.1z"/>
<path class="l" d="M108.7,417 115.8,419.4 115.8,392.6 108.7,390.2z"/>
<path class="r" d="M115.8,419.4 130.5,416.4 130.5,389.6 115.8,392.6z"/>
<path class="t" d="M108.7,390.2 115.8,392.6 130.5,389.6 123.4,387.3z"/>
<path class="l" d="M94,419.9 101.1,422.3 101.1,402.2 94,399.8z"/>
<path class="r" d="M101.1,422.3 115.8,419.4 115.8,399.3 101.1,402.2z"/>
<path class="t" d="M94,399.8 101.1,402.2 115.8,399.3 108.7,396.9z"/>
<path class="l" d="M79.3,422.8 86.4,425.2 86.4,398.4 79.3,396z"/>
<path class="r" d="M86.4,425.2 101.1,422.3 101.1,395.5 86.4,398.4z"/>
<path class="t" d="M79.3,396 86.4,398.4 101.1,395.5 94,393.1z"/>
<path class="l" d="M174.7,407.7 181.8,410 181.8,403.3 174.7,401z"/>
<path class="r" d="M181.8,410 196.5,407.1 196.5,400.4 181.8,403.3z"/>
<path class="t" d="M174.7,401 181.8,403.3 196.5,400.4 189.4,398.1z"/>
<path class="l" d="M160,410.6 167.1,413 167.1,403.6 160,401.2z"/>
<path class="r" d="M167.1,413 181.8,410 181.8,400.7 167.1,403.6z"/>
<path class="t" d="M160,401.2 167.1,403.6 181.8,400.7 174.7,398.3z"/>
<path class="l" d="M145.2,413.5 152.4,415.9 152.4,392.4 145.2,390.1z"/>
<path class="r" d="M152.4,415.9 167.1,413 167.1,389.5 152.4,392.4z"/>
<path class="t" d="M145.2,390.1 152.4,392.4 167.1,389.5 160,387.2z"/>
<path class="l" d="M130.5,416.4 137.6,418.8 137.6,395.3 130.5,393z"/>
<path class="r" d="M137.6,418.8 152.4,415.9 152.4,392.4 137.6,395.3z"/>
<path class="t" d="M130.5,393 137.6,395.3 152.4,392.4 145.2,390.1z"/>
<path class="l" d="M115.8,419.4 122.9,421.7 122.9,381.5 115.8,379.2z"/>
<path class="r" d="M122.9,421.7 137.6,418.8 137.6,378.6 122.9,381.5z"/>
<path class="t" d="M115.8,379.2 122.9,381.5 137.6,378.6 130.5,376.2z"/>
<path class="l" d="M101.1,422.3 108.2,424.6 108.2,381.1 101.1,378.7z"/>
<path class="r" d="M108.2,424.6 122.9,421.7 122.9,378.1 108.2,381.1z"/>
<path class="t" d="M101.1,378.7 108.2,381.1 122.9,378.1 115.8,375.8z"/>
<path fill="#fff" stroke="#fff" stroke-width="0.9" d="M86.4,358.2 93.5,360.5 108.2,357.6 101.1,355.3z"/>
<path class="l" d="M86.4,425.2 93.5,427.5 93.5,360.5 86.4,358.2z"/>
<path class="r" d="M93.5,427.5 108.2,424.6 108.2,357.6 93.5,360.5z"/>
<path class="l" d="M181.8,410 188.9,412.4 188.9,409.7 181.8,407.4z"/>
<path class="r" d="M188.9,412.4 203.6,409.5 203.6,406.8 188.9,409.7z"/>
<path class="t" d="M181.8,407.4 188.9,409.7 203.6,406.8 196.5,404.5z"/>
<path class="l" d="M167.1,413 174.2,415.3 174.2,412.6 167.1,410.3z"/>
<path class="r" d="M174.2,415.3 188.9,412.4 188.9,409.7 174.2,412.6z"/>
<path class="t" d="M167.1,410.3 174.2,412.6 188.9,409.7 181.8,407.4z"/>
<path class="l" d="M152.4,415.9 159.4,418.2 159.4,410.2 152.4,407.8z"/>
<path class="r" d="M159.4,418.2 174.2,415.3 174.2,407.3 159.4,410.2z"/>
<path class="t" d="M152.4,407.8 159.4,410.2 174.2,407.3 167.1,404.9z"/>
<path class="l" d="M137.6,418.8 144.7,421.1 144.7,409.1 137.6,406.7z"/>
<path class="r" d="M144.7,421.1 159.4,418.2 159.4,406.2 144.7,409.1z"/>
<path class="t" d="M137.6,406.7 144.7,409.1 159.4,406.2 152.4,403.8z"/>
<path class="l" d="M122.9,421.7 130,424 130,390.5 122.9,388.2z"/>
<path class="r" d="M130,424 144.7,421.1 144.7,387.6 130,390.5z"/>
<path class="t" d="M122.9,388.2 130,390.5 144.7,387.6 137.6,385.3z"/>
<path class="l" d="M108.2,424.6 115.3,427 115.3,376.7 108.2,374.4z"/>
<path class="r" d="M115.3,427 130,424 130,373.8 115.3,376.7z"/>
<path class="t" d="M108.2,374.4 115.3,376.7 130,373.8 122.9,371.4z"/>
<path fill="#fff" stroke="#fff" stroke-width="0.9" d="M93.5,360.5 100.6,362.9 115.3,360 108.2,357.6z"/>
<path class="l" d="M93.5,427.5 100.6,429.9 100.6,362.9 93.5,360.5z"/>
<path class="r" d="M100.6,429.9 115.3,427 115.3,360 100.6,362.9z"/>
<path class="l" d="M159.4,418.2 166.6,420.6 166.6,417.9 159.4,415.5z"/>
<path class="r" d="M166.6,420.6 181.3,417.7 181.3,415 166.6,417.9z"/>
<path class="t" d="M159.4,415.5 166.6,417.9 181.3,415 174.2,412.6z"/>
<path class="l" d="M144.7,421.1 151.8,423.5 151.8,420.8 144.7,418.5z"/>
<path class="r" d="M151.8,423.5 166.6,420.6 166.6,417.9 151.8,420.8z"/>
<path class="t" d="M144.7,418.5 151.8,420.8 166.6,417.9 159.4,415.5z"/>
<path class="l" d="M130,424 137.1,426.4 137.1,392.9 130,390.5z"/>
<path class="r" d="M137.1,426.4 151.8,423.5 151.8,390 137.1,392.9z"/>
<path class="t" d="M130,390.5 137.1,392.9 151.8,390 144.7,387.6z"/>
<path class="l" d="M115.3,427 122.4,429.3 122.4,379.1 115.3,376.7z"/>
<path class="r" d="M122.4,429.3 137.1,426.4 137.1,376.1 122.4,379.1z"/>
<path class="t" d="M115.3,376.7 122.4,379.1 137.1,376.1 130,373.8z"/>
<path fill="#fff" stroke="#fff" stroke-width="0.9" d="M100.6,362.9 107.7,365.2 122.4,362.3 115.3,360z"/>
<path class="l" d="M100.6,429.9 107.7,432.2 107.7,365.2 100.6,362.9z"/>
<path class="r" d="M107.7,432.2 122.4,429.3 122.4,362.3 107.7,365.2z"/>
<path class="l" d="M137.1,426.4 144.2,428.7 144.2,426.1 137.1,423.7z"/>
<path class="r" d="M144.2,428.7 158.9,425.8 158.9,423.1 144.2,426.1z"/>
<path class="t" d="M137.1,423.7 144.2,426.1 158.9,423.1 151.8,420.8z"/>
<path class="l" d="M122.4,429.3 129.5,431.6 129.5,392.8 122.4,390.4z"/>
<path class="r" d="M129.5,431.6 144.2,428.7 144.2,389.9 129.5,392.8z"/>
<path class="t" d="M122.4,390.4 129.5,392.8 144.2,389.9 137.1,387.5z"/>
<path fill="#fff" stroke="#fff" stroke-width="0.9" d="M107.7,365.2 114.8,367.6 129.5,364.6 122.4,362.3z"/>
<path class="l" d="M107.7,432.2 114.8,434.6 114.8,367.6 107.7,365.2z"/>
<path class="r" d="M114.8,434.6 129.5,431.6 129.5,364.6 114.8,367.6z"/>
<path class="l" d="M129.5,431.6 136.6,434 136.6,411.9 129.5,409.5z"/>
<path class="r" d="M136.6,434 151.3,431.1 151.3,409 136.6,411.9z"/>
<path class="t" d="M129.5,409.5 136.6,411.9 151.3,409 144.2,406.6z"/>
<path fill="#fff" stroke="#fff" stroke-width="0.9" d="M114.8,367.6 121.9,369.9 136.6,367 129.5,364.6z"/>
<path class="l" d="M114.8,434.6 121.9,436.9 121.9,369.9 114.8,367.6z"/>
<path class="r" d="M121.9,436.9 136.6,434 136.6,367 121.9,369.9z"/>
<path class="l" d="M121.9,436.9 129,439.3 129,405.1 121.9,402.7z"/>
<path class="r" d="M129,439.3 143.7,436.3 143.7,402.2 129,405.1z"/>
<path class="t" d="M121.9,402.7 129,405.1 143.7,402.2 136.6,399.8z"/>
<path class="l" d="M129,439.3 136.1,441.6 136.1,418.8 129,416.5z"/>
<path class="r" d="M136.1,441.6 150.8,438.7 150.8,415.9 136.1,418.8z"/>
<path class="t" d="M129,416.5 136.1,418.8 150.8,415.9 143.7,413.6z"/>
</g>
<path d="M101.1 364L101.1 355.3M108.2 366.3L108.2 357.6M115.3 368.7L115.3 360M122.4 371L122.4 362.3M129.5 373.4L129.5 364.6M136.6 375.7L136.6 367" stroke="#667" stroke-width="0.6" fill="none"/>
<path d="M43.8 411.1L43.8 344.1M43.8 411.1L136.1 441.6M136.1 441.6L253.8 418.3M253.8 418.3L253.8 351.3" stroke="#111" stroke-width="1.5" fill="none" stroke-linecap="square"/>
<path d="M43.8 411.1L40.6 410.7M43.8 407.8L42 407.5M43.8 404.4L42 404.2M43.8 401.1L42 400.8M43.8 397.7L42 397.5M43.8 394.4L40.6 394M43.8 391L42 390.8M43.8 387.7L42 387.4M43.8 384.3L42 384.1M43.8 381L42 380.7M43.8 377.6L40.6 377.2M43.8 374.2L42 374M43.8 370.9L42 370.7M43.8 367.6L42 367.3M43.8 364.2L42 364M43.8 360.9L40.6 360.5M43.8 357.5L42 357.3M43.8 354.2L42 353.9M43.8 350.8L42 350.6M43.8 347.5L42 347.2M43.8 344.1L40.6 343.7M136.1 441.6L133.5 442.4M133.7 440.8L132.3 441.4M131.4 440L129.9 440.6M129 439.3L127.5 439.8M126.6 438.5L125.2 439.1M124.3 437.7L121.7 438.5M121.9 436.9L120.4 437.5M119.5 436.1L118.1 436.7M117.2 435.3L115.7 435.9M114.8 434.6L113.3 435.2M112.4 433.8L109.9 434.6M110.1 433L108.6 433.6M107.7 432.2L106.2 432.8M105.3 431.4L103.9 432M103 430.7L101.5 431.2M100.6 429.9L98 430.7M98.2 429.1L96.8 429.7M95.9 428.3L94.4 428.9M93.5 427.5L92 428.1M91.1 426.7L89.7 427.3M88.8 426L86.2 426.8M86.4 425.2L84.9 425.8M84 424.4L82.6 425M81.7 423.6L80.2 424.2M79.3 422.8L77.8 423.4M76.9 422L74.4 422.9M74.6 421.3L73.1 421.9M72.2 420.5L70.7 421.1M69.8 419.7L68.4 420.3M67.5 418.9L66 419.5M65.1 418.1L62.5 418.9M62.7 417.4L61.3 417.9M60.4 416.6L58.9 417.2M58 415.8L56.5 416.4M55.6 415L54.2 415.6M53.3 414.2L50.7 415M50.9 413.4L49.4 414M48.5 412.7L47.1 413.3M46.2 411.9L44.7 412.5M43.8 411.1L42.3 411.7M136.1 441.6L138.6 442.7M139 441L140.5 441.8M142 440.4L143.4 441.2M144.9 439.9L146.4 440.6M147.9 439.3L149.3 440M150.8 438.7L153.3 439.8M153.8 438.1L155.2 438.9M156.7 437.5L158.1 438.3M159.6 436.9L161.1 437.7M162.6 436.4L164 437.1M165.5 435.8L168 436.9M168.5 435.2L169.9 436M171.4 434.6L172.8 435.4M174.4 434L175.8 434.8M177.3 433.4L178.7 434.2M180.2 432.9L182.7 434M183.2 432.3L184.6 433.1M186.1 431.7L187.5 432.5M189.1 431.1L190.5 431.9M192 430.5L193.4 431.3M194.9 430L197.4 431.1M197.9 429.4L199.3 430.1M200.8 428.8L202.3 429.6M203.8 428.2L205.2 429M206.7 427.6L208.1 428.4M209.7 427L212.1 428.2M212.6 426.5L214 427.2M215.5 425.9L217 426.6M218.5 425.3L219.9 426.1M221.4 424.7L222.9 425.5M224.4 424.1L226.8 425.2M227.3 423.5L228.7 424.3M230.3 423L231.7 423.7M233.2 422.4L234.6 423.1M236.1 421.8L237.6 422.6M239.1 421.2L241.6 422.3M242 420.6L243.5 421.4M245 420L246.4 420.8M247.9 419.5L249.3 420.2M250.9 418.9L252.3 419.7M253.8 418.3L256.3 419.4" stroke="#111" stroke-width="0.9" fill="none"/>
<g font-size="9.6" font-weight="bold" fill="#111">
<text x="38.3" y="415" text-anchor="end" font-size="11">0</text>
<text x="38.3" y="398.2" text-anchor="end" font-size="11">25</text>
<text x="38.3" y="381.5" text-anchor="end" font-size="11">50</text>
<text x="38.3" y="364.8" text-anchor="end" font-size="11">75</text>
<text x="38.3" y="348" text-anchor="end" font-size="11">100</text>
<text transform="translate(132.9 447.1) rotate(-57)" text-anchor="end">0</text>
<text transform="translate(121.1 443.2) rotate(-57)" text-anchor="end">5</text>
<text transform="translate(109.2 439.3) rotate(-57)" text-anchor="end">10</text>
<text transform="translate(97.4 435.4) rotate(-57)" text-anchor="end">15</text>
<text transform="translate(85.6 431.5) rotate(-57)" text-anchor="end">20</text>
<text transform="translate(73.7 427.5) rotate(-57)" text-anchor="end">25</text>
<text transform="translate(61.9 423.6) rotate(-57)" text-anchor="end">30</text>
<text transform="translate(50.1 419.7) rotate(-57)" text-anchor="end">35</text>
<text transform="translate(139.6 446.1) rotate(60)" text-anchor="start" dy="3">0</text>
<text transform="translate(154.3 443.2) rotate(60)" text-anchor="start" dy="3">0.1</text>
<text transform="translate(169 440.3) rotate(60)" text-anchor="start" dy="3">0.2</text>
<text transform="translate(183.7 437.4) rotate(60)" text-anchor="start" dy="3">0.3</text>
<text transform="translate(198.4 434.5) rotate(60)" text-anchor="start" dy="3">0.4</text>
<text transform="translate(213.2 431.5) rotate(60)" text-anchor="start" dy="3">0.5</text>
<text transform="translate(227.9 428.6) rotate(60)" text-anchor="start" dy="3">0.6</text>
<text transform="translate(242.6 425.7) rotate(60)" text-anchor="start" dy="3">0.7</text>
<text transform="translate(257.3 422.8) rotate(60)" text-anchor="start" dy="3">0.8</text>
</g>
<text x="140.3" y="341.5" font-size="14.5" font-weight="bold" text-anchor="middle" fill="#111">(e)</text>
<text transform="translate(15 378.6) rotate(-90)" font-size="12.3" font-weight="bold" text-anchor="middle" fill="#1a1a1a">Frequency</text>
<text x="38.5" y="461.5" font-size="12.3" font-weight="bold" fill="#1a1a1a">D<tspan font-size="9.5" dy="4.5">m</tspan><tspan dy="-4.5"> (</tspan><tspan font-weight="normal" font-style="italic" font-family="Liberation Serif, serif" font-size="13">μ</tspan>m)</text>
<text x="190" y="469" font-size="12.3" font-weight="bold" fill="#1a1a1a">LWC (gm<tspan font-size="8.5" dy="-5">-3</tspan><tspan dy="5">)</tspan></text>
<path d="M347.3 433.3L347.3 321M373.4 433.3L373.4 321M399.6 433.3L399.6 321M425.8 433.3L425.8 321M451.9 433.3L451.9 321M478.1 433.3L478.1 321M504.2 433.3L504.2 321M321.1 410.8L530.4 410.8M321.1 388.4L530.4 388.4M321.1 365.9L530.4 365.9M321.1 343.5L530.4 343.5" stroke="#d3d3d3" stroke-width="0.95" fill="none"/>
<polyline points="321.1,433.3 322.1,426.6 322.9,419.8 323.5,410.8 324,405.6 325.3,403.5 326.9,402.2 329.5,401.1 336.8,400.5 351.7,399.6 353.5,399 354.6,397.4 355.9,394.6 356.9,391.1 357.5,388.4 358.3,383.9 359.6,382.5 360.9,380.5 361.9,380 363.5,376 364.8,374.9 366.1,371.5 367.7,370.4 368.7,368.7 370,367 371.3,363.7 372.9,362.6 374.2,361.7 376.8,360.1 377.6,356.9 378.1,356.4 380.2,355.3 382.1,354.2 383.9,352.2 386,350.3 388.1,348.5 389.9,346.9 391.2,345.9 392.5,345.6 399.1,344.8 410.1,344 420,343.2 423.1,342.6 427.8,341.1 431,340.5 434.9,339.3 441.4,338.6 448,337.6 451.9,337.1 455.8,335.8 458.5,334.5 462.4,332.8 466.3,330.5 470.2,328.3 474.2,326.8 478.1,326.1 484.6,324.6 489.8,323.8 499,323.1 509.5,322.7 519.9,322.1 530.4,321.6" fill="none" stroke="#111" stroke-width="1.75" stroke-linejoin="round"/>
<rect x="321.1" y="321" width="209.3" height="112.3" fill="none" stroke="#111" stroke-width="1.3"/>
<path d="M321.1 433.3v-2.2M321.1 321v2.2M347.3 433.3v-2.2M347.3 321v2.2M373.4 433.3v-2.2M373.4 321v2.2M399.6 433.3v-2.2M399.6 321v2.2M425.8 433.3v-2.2M425.8 321v2.2M451.9 433.3v-2.2M451.9 321v2.2M478.1 433.3v-2.2M478.1 321v2.2M504.2 433.3v-2.2M504.2 321v2.2M530.4 433.3v-2.2M530.4 321v2.2M321.1 433.3h2.2M530.4 433.3h-2.2M321.1 410.8h2.2M530.4 410.8h-2.2M321.1 388.4h2.2M530.4 388.4h-2.2M321.1 365.9h2.2M530.4 365.9h-2.2M321.1 343.5h2.2M530.4 343.5h-2.2M321.1 321h2.2M530.4 321h-2.2" stroke="#111" stroke-width="0.9" fill="none"/>
<g font-size="11" font-weight="bold" fill="#111">
<text x="321.1" y="447.6" text-anchor="middle">0</text>
<text x="347.3" y="447.6" text-anchor="middle">0.1</text>
<text x="373.4" y="447.6" text-anchor="middle">0.2</text>
<text x="399.6" y="447.6" text-anchor="middle">0.3</text>
<text x="425.8" y="447.6" text-anchor="middle">0.4</text>
<text x="451.9" y="447.6" text-anchor="middle">0.5</text>
<text x="478.1" y="447.6" text-anchor="middle">0.6</text>
<text x="504.2" y="447.6" text-anchor="middle">0.7</text>
<text x="530.4" y="447.6" text-anchor="middle">0.8</text>
<text x="317.1" y="437.2" text-anchor="end">0</text>
<text x="317.1" y="414.7" text-anchor="end">0.2</text>
<text x="317.1" y="392.3" text-anchor="end">0.4</text>
<text x="317.1" y="369.8" text-anchor="end">0.6</text>
<text x="317.1" y="347.4" text-anchor="end">0.8</text>
<text x="317.1" y="324.9" text-anchor="end">1</text>
</g>
<text x="411" y="336" font-size="14.5" font-weight="bold" text-anchor="middle" fill="#111">(f)</text>
<text transform="translate(298 377.1) rotate(-90)" font-size="12.6" font-weight="bold" text-anchor="middle" fill="#1a1a1a">Cumulitive mass(%)</text>
<text x="392.5" y="468.5" font-size="12.3" font-weight="bold" fill="#1a1a1a">LWC (gm<tspan font-size="8.5" dy="-5">-3</tspan><tspan dy="5">)</tspan></text>
</svg>
</body></html>
